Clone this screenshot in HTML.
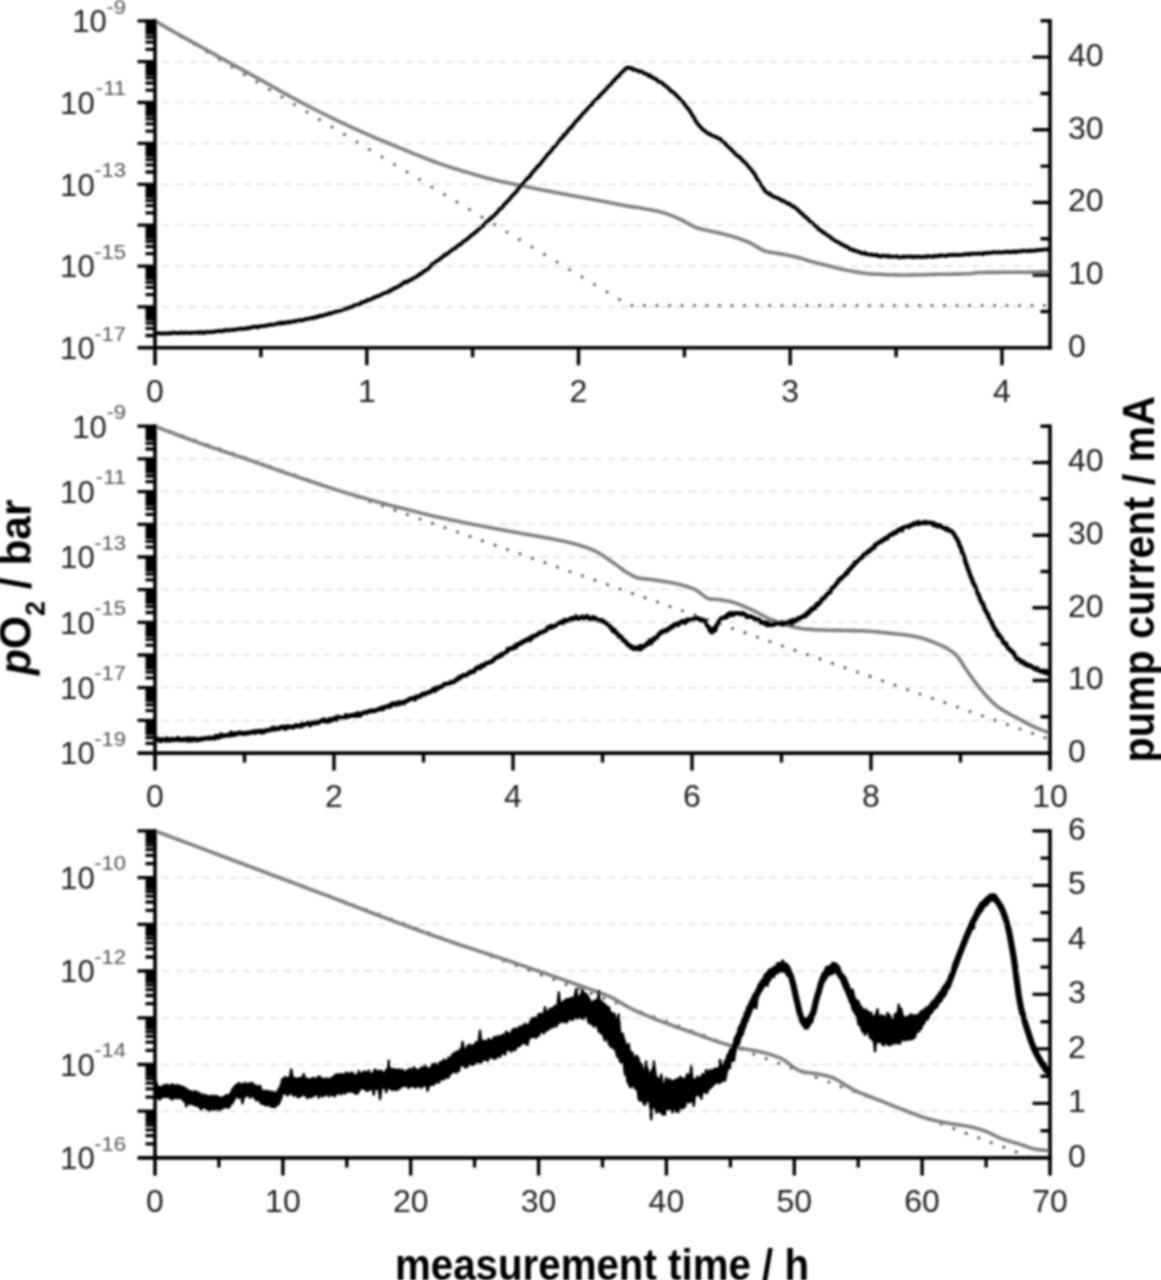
<!DOCTYPE html>
<html lang="en"><head><meta charset="utf-8"><title>pO2 and pump current vs measurement time</title>
<style>html,body{margin:0;padding:0;background:#fff}svg{display:block}</style></head>
<body>
<svg width="1161" height="1280" viewBox="0 0 1161 1280">
<defs><filter id="bl" x="-2%" y="-2%" width="104%" height="104%"><feGaussianBlur stdDeviation="0.9"/></filter></defs>
<rect width="1161" height="1280" fill="#fff"/>
<g filter="url(#bl)">
<g stroke="#e0e0e0" stroke-width="1.5" stroke-dasharray="7.5 6" fill="none">
<path d="M162 61.7H1040"/>
<path d="M162 102.5H1040"/>
<path d="M162 143.4H1040"/>
<path d="M162 184.3H1040"/>
<path d="M162 225.2H1040"/>
<path d="M162 266.1H1040"/>
<path d="M162 306.9H1040"/>
<path d="M162 458.9H1040"/>
<path d="M162 491.6H1040"/>
<path d="M162 524.3H1040"/>
<path d="M162 557.0H1040"/>
<path d="M162 589.6H1040"/>
<path d="M162 622.3H1040"/>
<path d="M162 655.0H1040"/>
<path d="M162 687.7H1040"/>
<path d="M162 720.4H1040"/>
<path d="M162 877.6H1040"/>
<path d="M162 924.3H1040"/>
<path d="M162 971.0H1040"/>
<path d="M162 1017.8H1040"/>
<path d="M162 1064.5H1040"/>
<path d="M162 1111.2H1040"/>
</g>
<g fill="#555">
<circle cx="169.5" cy="29.5" r="1.6"/>
<circle cx="182.0" cy="37.0" r="1.6"/>
<circle cx="194.5" cy="44.5" r="1.6"/>
<circle cx="207.0" cy="52.0" r="1.6"/>
<circle cx="219.5" cy="59.5" r="1.6"/>
<circle cx="232.0" cy="67.0" r="1.6"/>
<circle cx="244.5" cy="74.5" r="1.6"/>
<circle cx="257.0" cy="82.0" r="1.6"/>
<circle cx="269.5" cy="89.5" r="1.6"/>
<circle cx="282.0" cy="97.0" r="1.6"/>
<circle cx="294.5" cy="104.5" r="1.6"/>
<circle cx="307.0" cy="112.0" r="1.6"/>
<circle cx="319.5" cy="119.5" r="1.6"/>
<circle cx="332.0" cy="127.0" r="1.6"/>
<circle cx="344.5" cy="134.5" r="1.6"/>
<circle cx="357.0" cy="142.0" r="1.6"/>
<circle cx="369.5" cy="149.5" r="1.6"/>
<circle cx="382.0" cy="157.0" r="1.6"/>
<circle cx="394.5" cy="164.5" r="1.6"/>
<circle cx="407.0" cy="172.0" r="1.6"/>
<circle cx="419.5" cy="179.5" r="1.6"/>
<circle cx="432.0" cy="187.0" r="1.6"/>
<circle cx="444.5" cy="194.5" r="1.6"/>
<circle cx="457.0" cy="202.0" r="1.6"/>
<circle cx="469.5" cy="209.5" r="1.6"/>
<circle cx="482.0" cy="217.0" r="1.6"/>
<circle cx="494.5" cy="224.5" r="1.6"/>
<circle cx="507.0" cy="232.0" r="1.6"/>
<circle cx="519.5" cy="239.5" r="1.6"/>
<circle cx="532.0" cy="247.0" r="1.6"/>
<circle cx="544.5" cy="254.5" r="1.6"/>
<circle cx="557.0" cy="262.0" r="1.6"/>
<circle cx="569.5" cy="269.5" r="1.6"/>
<circle cx="582.0" cy="277.0" r="1.6"/>
<circle cx="594.5" cy="284.5" r="1.6"/>
<circle cx="607.0" cy="292.0" r="1.6"/>
<circle cx="619.5" cy="299.5" r="1.6"/>
<circle cx="632.0" cy="305.5" r="1.6"/>
<circle cx="644.5" cy="305.5" r="1.6"/>
<circle cx="657.0" cy="305.5" r="1.6"/>
<circle cx="669.5" cy="305.5" r="1.6"/>
<circle cx="682.0" cy="305.5" r="1.6"/>
<circle cx="694.5" cy="305.5" r="1.6"/>
<circle cx="707.0" cy="305.5" r="1.6"/>
<circle cx="719.5" cy="305.5" r="1.6"/>
<circle cx="732.0" cy="305.5" r="1.6"/>
<circle cx="744.5" cy="305.5" r="1.6"/>
<circle cx="757.0" cy="305.5" r="1.6"/>
<circle cx="769.5" cy="305.5" r="1.6"/>
<circle cx="782.0" cy="305.5" r="1.6"/>
<circle cx="794.5" cy="305.5" r="1.6"/>
<circle cx="807.0" cy="305.5" r="1.6"/>
<circle cx="819.5" cy="305.5" r="1.6"/>
<circle cx="832.0" cy="305.5" r="1.6"/>
<circle cx="844.5" cy="305.5" r="1.6"/>
<circle cx="857.0" cy="305.5" r="1.6"/>
<circle cx="869.5" cy="305.5" r="1.6"/>
<circle cx="882.0" cy="305.5" r="1.6"/>
<circle cx="894.5" cy="305.5" r="1.6"/>
<circle cx="907.0" cy="305.5" r="1.6"/>
<circle cx="919.5" cy="305.5" r="1.6"/>
<circle cx="932.0" cy="305.5" r="1.6"/>
<circle cx="944.5" cy="305.5" r="1.6"/>
<circle cx="957.0" cy="305.5" r="1.6"/>
<circle cx="969.5" cy="305.5" r="1.6"/>
<circle cx="982.0" cy="305.5" r="1.6"/>
<circle cx="994.5" cy="305.5" r="1.6"/>
<circle cx="1007.0" cy="305.5" r="1.6"/>
<circle cx="1019.5" cy="305.5" r="1.6"/>
<circle cx="1032.0" cy="305.5" r="1.6"/>
<circle cx="1044.5" cy="305.5" r="1.6"/>
<circle cx="170.0" cy="431.4" r="1.6"/>
<circle cx="182.5" cy="435.8" r="1.6"/>
<circle cx="195.0" cy="440.2" r="1.6"/>
<circle cx="207.5" cy="444.6" r="1.6"/>
<circle cx="220.0" cy="448.9" r="1.6"/>
<circle cx="232.5" cy="453.3" r="1.6"/>
<circle cx="245.0" cy="457.7" r="1.6"/>
<circle cx="257.5" cy="462.1" r="1.6"/>
<circle cx="270.0" cy="466.4" r="1.6"/>
<circle cx="282.5" cy="470.8" r="1.6"/>
<circle cx="295.0" cy="475.2" r="1.6"/>
<circle cx="307.5" cy="479.6" r="1.6"/>
<circle cx="320.0" cy="483.9" r="1.6"/>
<circle cx="332.5" cy="488.3" r="1.6"/>
<circle cx="345.0" cy="492.7" r="1.6"/>
<circle cx="357.5" cy="497.1" r="1.6"/>
<circle cx="370.0" cy="501.4" r="1.6"/>
<circle cx="382.5" cy="505.8" r="1.6"/>
<circle cx="395.0" cy="510.2" r="1.6"/>
<circle cx="407.5" cy="514.6" r="1.6"/>
<circle cx="420.0" cy="519.0" r="1.6"/>
<circle cx="432.5" cy="523.3" r="1.6"/>
<circle cx="445.0" cy="527.7" r="1.6"/>
<circle cx="457.5" cy="532.1" r="1.6"/>
<circle cx="470.0" cy="536.5" r="1.6"/>
<circle cx="482.5" cy="540.8" r="1.6"/>
<circle cx="495.0" cy="545.2" r="1.6"/>
<circle cx="507.5" cy="549.6" r="1.6"/>
<circle cx="520.0" cy="553.9" r="1.6"/>
<circle cx="532.5" cy="558.3" r="1.6"/>
<circle cx="545.0" cy="562.7" r="1.6"/>
<circle cx="557.5" cy="567.1" r="1.6"/>
<circle cx="570.0" cy="571.5" r="1.6"/>
<circle cx="582.5" cy="575.8" r="1.6"/>
<circle cx="595.0" cy="580.2" r="1.6"/>
<circle cx="607.5" cy="584.6" r="1.6"/>
<circle cx="620.0" cy="589.0" r="1.6"/>
<circle cx="632.5" cy="593.3" r="1.6"/>
<circle cx="645.0" cy="597.7" r="1.6"/>
<circle cx="657.5" cy="602.1" r="1.6"/>
<circle cx="670.0" cy="606.5" r="1.6"/>
<circle cx="682.5" cy="610.8" r="1.6"/>
<circle cx="695.0" cy="615.2" r="1.6"/>
<circle cx="707.5" cy="619.6" r="1.6"/>
<circle cx="720.0" cy="624.0" r="1.6"/>
<circle cx="732.5" cy="628.3" r="1.6"/>
<circle cx="745.0" cy="632.7" r="1.6"/>
<circle cx="757.5" cy="637.1" r="1.6"/>
<circle cx="770.0" cy="641.5" r="1.6"/>
<circle cx="782.5" cy="645.8" r="1.6"/>
<circle cx="795.0" cy="650.2" r="1.6"/>
<circle cx="807.5" cy="654.6" r="1.6"/>
<circle cx="820.0" cy="658.9" r="1.6"/>
<circle cx="832.5" cy="663.3" r="1.6"/>
<circle cx="845.0" cy="667.7" r="1.6"/>
<circle cx="857.5" cy="672.1" r="1.6"/>
<circle cx="870.0" cy="676.4" r="1.6"/>
<circle cx="882.5" cy="680.8" r="1.6"/>
<circle cx="895.0" cy="685.2" r="1.6"/>
<circle cx="907.5" cy="689.6" r="1.6"/>
<circle cx="920.0" cy="694.0" r="1.6"/>
<circle cx="932.5" cy="698.3" r="1.6"/>
<circle cx="945.0" cy="702.7" r="1.6"/>
<circle cx="957.5" cy="707.1" r="1.6"/>
<circle cx="970.0" cy="711.5" r="1.6"/>
<circle cx="982.5" cy="715.8" r="1.6"/>
<circle cx="995.0" cy="720.2" r="1.6"/>
<circle cx="1007.5" cy="724.6" r="1.6"/>
<circle cx="1020.0" cy="729.0" r="1.6"/>
<circle cx="1032.5" cy="733.3" r="1.6"/>
<circle cx="1045.0" cy="737.7" r="1.6"/>
<circle cx="166.2" cy="835.1" r="1.6"/>
<circle cx="178.8" cy="839.8" r="1.6"/>
<circle cx="191.2" cy="844.4" r="1.6"/>
<circle cx="203.8" cy="849.1" r="1.6"/>
<circle cx="216.2" cy="853.7" r="1.6"/>
<circle cx="228.8" cy="858.4" r="1.6"/>
<circle cx="241.2" cy="863.0" r="1.6"/>
<circle cx="253.8" cy="867.7" r="1.6"/>
<circle cx="266.2" cy="872.4" r="1.6"/>
<circle cx="278.8" cy="877.0" r="1.6"/>
<circle cx="291.2" cy="881.7" r="1.6"/>
<circle cx="303.8" cy="886.3" r="1.6"/>
<circle cx="316.2" cy="891.0" r="1.6"/>
<circle cx="328.8" cy="895.7" r="1.6"/>
<circle cx="341.2" cy="900.3" r="1.6"/>
<circle cx="353.8" cy="905.0" r="1.6"/>
<circle cx="366.2" cy="909.6" r="1.6"/>
<circle cx="378.8" cy="914.3" r="1.6"/>
<circle cx="391.2" cy="919.0" r="1.6"/>
<circle cx="403.8" cy="923.6" r="1.6"/>
<circle cx="416.2" cy="928.3" r="1.6"/>
<circle cx="428.8" cy="932.9" r="1.6"/>
<circle cx="441.2" cy="937.6" r="1.6"/>
<circle cx="453.8" cy="942.2" r="1.6"/>
<circle cx="466.2" cy="946.9" r="1.6"/>
<circle cx="478.8" cy="951.6" r="1.6"/>
<circle cx="491.2" cy="956.2" r="1.6"/>
<circle cx="503.8" cy="960.9" r="1.6"/>
<circle cx="516.2" cy="965.5" r="1.6"/>
<circle cx="528.8" cy="970.2" r="1.6"/>
<circle cx="541.2" cy="974.9" r="1.6"/>
<circle cx="553.8" cy="979.5" r="1.6"/>
<circle cx="566.2" cy="984.2" r="1.6"/>
<circle cx="578.8" cy="988.8" r="1.6"/>
<circle cx="591.2" cy="993.5" r="1.6"/>
<circle cx="603.8" cy="998.1" r="1.6"/>
<circle cx="616.2" cy="1002.8" r="1.6"/>
<circle cx="628.8" cy="1007.5" r="1.6"/>
<circle cx="641.2" cy="1012.1" r="1.6"/>
<circle cx="653.8" cy="1016.8" r="1.6"/>
<circle cx="666.2" cy="1021.4" r="1.6"/>
<circle cx="678.8" cy="1026.1" r="1.6"/>
<circle cx="691.2" cy="1030.8" r="1.6"/>
<circle cx="703.8" cy="1035.4" r="1.6"/>
<circle cx="716.2" cy="1040.1" r="1.6"/>
<circle cx="728.8" cy="1044.7" r="1.6"/>
<circle cx="741.2" cy="1049.4" r="1.6"/>
<circle cx="753.8" cy="1054.1" r="1.6"/>
<circle cx="766.2" cy="1058.7" r="1.6"/>
<circle cx="778.8" cy="1063.4" r="1.6"/>
<circle cx="791.2" cy="1068.0" r="1.6"/>
<circle cx="803.8" cy="1072.7" r="1.6"/>
<circle cx="816.2" cy="1077.3" r="1.6"/>
<circle cx="828.8" cy="1082.0" r="1.6"/>
<circle cx="841.2" cy="1086.7" r="1.6"/>
<circle cx="853.8" cy="1091.3" r="1.6"/>
<circle cx="866.2" cy="1096.0" r="1.6"/>
<circle cx="878.8" cy="1100.6" r="1.6"/>
<circle cx="891.2" cy="1105.3" r="1.6"/>
<circle cx="903.8" cy="1110.0" r="1.6"/>
<circle cx="916.2" cy="1114.6" r="1.6"/>
<circle cx="928.8" cy="1119.3" r="1.6"/>
<circle cx="941.2" cy="1123.9" r="1.6"/>
<circle cx="953.8" cy="1128.6" r="1.6"/>
<circle cx="966.2" cy="1133.3" r="1.6"/>
<circle cx="978.8" cy="1137.9" r="1.6"/>
<circle cx="991.2" cy="1142.6" r="1.6"/>
<circle cx="1003.8" cy="1147.2" r="1.6"/>
<circle cx="1016.2" cy="1151.9" r="1.6"/>
<circle cx="1028.8" cy="1156.5" r="1.6"/>
</g>
<g stroke="#808080" stroke-width="3.6" fill="none" stroke-linejoin="round" stroke-linecap="butt">
<path d="M155.0 20.8L157.0 22.0L159.0 23.2L161.0 24.4L163.0 25.6L165.0 26.8L167.0 27.9L169.0 29.1L171.0 30.2L173.0 31.3L175.0 32.5L177.0 33.6L179.0 34.7L181.0 35.8L183.0 36.9L185.0 38.1L187.0 39.2L189.0 40.3L191.0 41.4L193.0 42.5L195.0 43.6L197.0 44.7L199.0 45.8L201.0 46.9L203.0 48.0L205.0 49.1L207.0 50.2L209.0 51.3L211.0 52.4L213.0 53.6L215.0 54.7L217.0 55.8L219.0 56.9L221.0 58.0L223.0 59.1L225.0 60.2L227.0 61.3L229.0 62.4L231.0 63.5L233.0 64.6L235.0 65.7L237.0 66.8L239.0 67.9L241.0 69.0L243.0 70.1L245.0 71.2L247.0 72.3L249.0 73.4L251.0 74.5L253.0 75.6L255.0 76.8L257.0 77.9L259.0 79.0L261.0 80.1L263.0 81.2L265.0 82.3L267.0 83.5L269.0 84.6L271.0 85.7L273.0 86.9L275.0 88.0L277.0 89.1L279.0 90.3L281.0 91.4L283.0 92.5L285.0 93.6L287.0 94.7L289.0 95.8L291.0 96.9L293.0 98.0L295.0 99.1L297.0 100.2L299.0 101.2L301.0 102.3L303.0 103.3L305.0 104.4L307.0 105.4L309.0 106.4L311.0 107.5L313.0 108.5L315.0 109.5L317.0 110.5L319.0 111.5L321.0 112.5L323.0 113.5L325.0 114.5L327.0 115.5L329.0 116.5L331.0 117.5L333.0 118.4L335.0 119.4L337.0 120.4L339.0 121.3L341.0 122.3L343.0 123.2L345.0 124.2L347.0 125.1L349.0 126.1L351.0 127.0L353.0 127.9L355.0 128.8L357.0 129.7L359.0 130.6L361.0 131.5L363.0 132.4L365.0 133.3L367.0 134.2L369.0 135.1L371.0 135.9L373.0 136.8L375.0 137.7L377.0 138.5L379.0 139.4L381.0 140.2L383.0 141.0L385.0 141.9L387.0 142.7L389.0 143.5L391.0 144.3L393.0 145.2L395.0 146.0L397.0 146.8L399.0 147.6L401.0 148.4L403.0 149.2L405.0 150.0L407.0 150.9L409.0 151.7L411.0 152.5L413.0 153.3L415.0 154.1L417.0 154.9L419.0 155.7L421.0 156.6L423.0 157.3L425.0 158.1L427.0 158.9L429.0 159.7L431.0 160.5L433.0 161.2L435.0 162.0L437.0 162.7L439.0 163.4L441.0 164.1L443.0 164.8L445.0 165.5L447.0 166.1L449.0 166.8L451.0 167.4L453.0 168.1L455.0 168.7L457.0 169.3L459.0 169.9L461.0 170.5L463.0 171.2L465.0 171.8L467.0 172.3L469.0 172.9L471.0 173.5L473.0 174.1L475.0 174.7L477.0 175.3L479.0 175.8L481.0 176.4L483.0 176.9L485.0 177.5L487.0 178.0L489.0 178.5L491.0 179.0L493.0 179.5L495.0 180.0L497.0 180.4L499.0 180.9L501.0 181.4L503.0 181.8L505.0 182.3L507.0 182.7L509.0 183.1L511.0 183.6L513.0 184.0L515.0 184.4L517.0 184.8L519.0 185.3L521.0 185.7L523.0 186.1L525.0 186.5L527.0 186.9L529.0 187.3L531.0 187.7L533.0 188.1L535.0 188.5L537.0 188.9L539.0 189.3L541.0 189.7L543.0 190.1L545.0 190.5L547.0 190.8L549.0 191.2L551.0 191.6L553.0 192.0L555.0 192.4L557.0 192.7L559.0 193.1L561.0 193.5L563.0 193.9L565.0 194.2L567.0 194.6L569.0 195.0L571.0 195.4L573.0 195.8L575.0 196.1L577.0 196.5L579.0 196.9L581.0 197.2L583.0 197.6L585.0 198.0L587.0 198.4L589.0 198.7L591.0 199.1L593.0 199.5L595.0 199.8L597.0 200.2L599.0 200.6L601.0 201.0L603.0 201.3L605.0 201.7L607.0 202.1L609.0 202.5L611.0 202.9L613.0 203.3L615.0 203.7L617.0 204.1L619.0 204.4L621.0 204.8L623.0 205.2L625.0 205.6L627.0 205.9L629.0 206.3L631.0 206.6L633.0 206.9L635.0 207.2L637.0 207.5L639.0 207.8L641.0 208.1L643.0 208.5L645.0 208.8L647.0 209.2L649.0 209.5L651.0 209.9L653.0 210.3L655.0 210.7L657.0 211.1L659.0 211.6L661.0 212.1L663.0 212.6L665.0 213.2L667.0 213.9L669.0 214.6L671.0 215.4L673.0 216.2L675.0 217.1L677.0 217.9L679.0 218.8L681.0 219.7L683.0 220.7L685.0 221.8L687.0 222.9L689.0 224.0L691.0 225.1L693.0 226.1L695.0 227.1L697.0 227.8L699.0 228.5L701.0 229.0L703.0 229.5L705.0 229.9L707.0 230.3L709.0 230.8L711.0 231.2L713.0 231.7L715.0 232.1L717.0 232.6L719.0 233.0L721.0 233.5L723.0 234.0L725.0 234.4L727.0 234.9L729.0 235.5L731.0 236.0L733.0 236.6L735.0 237.2L737.0 237.9L739.0 238.6L741.0 239.3L743.0 240.0L745.0 240.8L747.0 241.5L749.0 242.4L751.0 243.4L753.0 244.5L755.0 245.7L757.0 246.9L759.0 248.1L761.0 249.2L763.0 250.1L765.0 251.0L767.0 251.6L769.0 252.1L771.0 252.4L773.0 252.7L775.0 253.0L777.0 253.3L779.0 253.6L781.0 253.9L783.0 254.3L785.0 254.7L787.0 255.0L789.0 255.4L791.0 255.9L793.0 256.3L795.0 256.8L797.0 257.2L799.0 257.8L801.0 258.3L803.0 258.9L805.0 259.5L807.0 260.2L809.0 260.8L811.0 261.4L813.0 261.9L815.0 262.5L817.0 263.0L819.0 263.6L821.0 264.1L823.0 264.6L825.0 265.1L827.0 265.6L829.0 266.1L831.0 266.6L833.0 267.0L835.0 267.5L837.0 268.0L839.0 268.4L841.0 268.9L843.0 269.4L845.0 269.8L847.0 270.2L849.0 270.7L851.0 271.0L853.0 271.4L855.0 271.8L857.0 272.1L859.0 272.4L861.0 272.7L863.0 273.0L865.0 273.3L867.0 273.5L869.0 273.7L871.0 273.9L873.0 274.0L875.0 274.1L877.0 274.2L879.0 274.3L881.0 274.4L883.0 274.5L885.0 274.6L887.0 274.7L889.0 274.7L891.0 274.8L893.0 274.8L895.0 274.9L897.0 274.9L899.0 275.0L901.0 275.0L903.0 275.0L905.0 275.0L907.0 275.0L909.0 275.0L911.0 274.9L913.0 274.9L915.0 274.9L917.0 274.8L919.0 274.8L921.0 274.7L923.0 274.7L925.0 274.6L927.0 274.6L929.0 274.5L931.0 274.5L933.0 274.4L935.0 274.4L937.0 274.4L939.0 274.3L941.0 274.3L943.0 274.3L945.0 274.3L947.0 274.2L949.0 274.2L951.0 274.2L953.0 274.1L955.0 274.1L957.0 274.1L959.0 274.0L961.0 274.0L963.0 273.9L965.0 273.8L967.0 273.8L969.0 273.7L971.0 273.5L973.0 273.2L975.0 272.9L977.0 272.7L979.0 272.5L981.0 272.5L983.0 272.5L985.0 272.4L987.0 272.4L989.0 272.4L991.0 272.4L993.0 272.4L995.0 272.4L997.0 272.4L999.0 272.4L1001.0 272.3L1003.0 272.3L1005.0 272.3L1007.0 272.3L1009.0 272.3L1011.0 272.3L1013.0 272.3L1015.0 272.3L1017.0 272.3L1019.0 272.3L1021.0 272.2L1023.0 272.2L1025.0 272.2L1027.0 272.2L1029.0 272.1L1031.0 272.1L1033.0 272.1L1035.0 272.0L1037.0 272.0L1039.0 272.0L1041.0 271.9L1043.0 271.9L1045.0 271.9L1047.0 271.8L1049.0 271.8L1050.0 271.8"/>
<path d="M155.0 426.2L157.0 427.0L159.0 427.8L161.0 428.6L163.0 429.3L165.0 430.1L167.0 430.9L169.0 431.7L171.0 432.4L173.0 433.2L175.0 434.0L177.0 434.7L179.0 435.5L181.0 436.2L183.0 437.0L185.0 437.7L187.0 438.5L189.0 439.2L191.0 439.9L193.0 440.7L195.0 441.4L197.0 442.1L199.0 442.8L201.0 443.6L203.0 444.3L205.0 445.0L207.0 445.7L209.0 446.4L211.0 447.1L213.0 447.8L215.0 448.4L217.0 449.1L219.0 449.8L221.0 450.5L223.0 451.2L225.0 451.8L227.0 452.5L229.0 453.2L231.0 453.9L233.0 454.5L235.0 455.2L237.0 455.9L239.0 456.5L241.0 457.2L243.0 457.9L245.0 458.6L247.0 459.3L249.0 460.0L251.0 460.6L253.0 461.3L255.0 462.0L257.0 462.7L259.0 463.4L261.0 464.1L263.0 464.8L265.0 465.5L267.0 466.3L269.0 467.0L271.0 467.7L273.0 468.4L275.0 469.1L277.0 469.8L279.0 470.5L281.0 471.2L283.0 471.9L285.0 472.6L287.0 473.3L289.0 474.0L291.0 474.7L293.0 475.4L295.0 476.1L297.0 476.7L299.0 477.4L301.0 478.1L303.0 478.8L305.0 479.4L307.0 480.1L309.0 480.8L311.0 481.5L313.0 482.1L315.0 482.8L317.0 483.5L319.0 484.1L321.0 484.8L323.0 485.5L325.0 486.1L327.0 486.8L329.0 487.4L331.0 488.1L333.0 488.7L335.0 489.4L337.0 490.0L339.0 490.6L341.0 491.3L343.0 491.9L345.0 492.5L347.0 493.1L349.0 493.7L351.0 494.3L353.0 494.9L355.0 495.5L357.0 496.1L359.0 496.6L361.0 497.2L363.0 497.8L365.0 498.3L367.0 498.9L369.0 499.5L371.0 500.0L373.0 500.6L375.0 501.1L377.0 501.7L379.0 502.2L381.0 502.8L383.0 503.3L385.0 503.8L387.0 504.4L389.0 504.9L391.0 505.4L393.0 505.9L395.0 506.5L397.0 507.0L399.0 507.5L401.0 508.0L403.0 508.5L405.0 509.0L407.0 509.5L409.0 510.1L411.0 510.6L413.0 511.1L415.0 511.6L417.0 512.1L419.0 512.6L421.0 513.0L423.0 513.5L425.0 514.0L427.0 514.5L429.0 515.0L431.0 515.4L433.0 515.9L435.0 516.4L437.0 516.8L439.0 517.3L441.0 517.7L443.0 518.2L445.0 518.6L447.0 519.0L449.0 519.5L451.0 519.9L453.0 520.3L455.0 520.7L457.0 521.1L459.0 521.6L461.0 522.0L463.0 522.4L465.0 522.8L467.0 523.2L469.0 523.6L471.0 524.0L473.0 524.4L475.0 524.8L477.0 525.2L479.0 525.5L481.0 525.9L483.0 526.3L485.0 526.7L487.0 527.1L489.0 527.5L491.0 527.8L493.0 528.2L495.0 528.6L497.0 528.9L499.0 529.3L501.0 529.7L503.0 530.1L505.0 530.4L507.0 530.8L509.0 531.2L511.0 531.5L513.0 531.9L515.0 532.2L517.0 532.6L519.0 533.0L521.0 533.3L523.0 533.7L525.0 534.0L527.0 534.4L529.0 534.7L531.0 535.1L533.0 535.4L535.0 535.8L537.0 536.1L539.0 536.5L541.0 536.8L543.0 537.2L545.0 537.6L547.0 537.9L549.0 538.3L551.0 538.7L553.0 539.1L555.0 539.5L557.0 539.9L559.0 540.3L561.0 540.7L563.0 541.1L565.0 541.6L567.0 542.0L569.0 542.5L571.0 543.0L573.0 543.5L575.0 544.0L577.0 544.6L579.0 545.1L581.0 545.7L583.0 546.4L585.0 547.0L587.0 547.7L589.0 548.5L591.0 549.3L593.0 550.1L595.0 551.0L597.0 552.0L599.0 553.1L601.0 554.3L603.0 555.6L605.0 556.9L607.0 558.4L609.0 559.8L611.0 561.2L613.0 562.6L615.0 564.0L617.0 565.4L619.0 566.9L621.0 568.3L623.0 569.8L625.0 571.2L627.0 572.5L629.0 573.6L631.0 574.8L633.0 576.0L635.0 576.9L637.0 577.6L639.0 578.1L641.0 578.4L643.0 578.7L645.0 578.9L647.0 579.1L649.0 579.3L651.0 579.5L653.0 579.8L655.0 580.1L657.0 580.4L659.0 580.7L661.0 581.0L663.0 581.3L665.0 581.6L667.0 582.0L669.0 582.3L671.0 582.7L673.0 583.1L675.0 583.5L677.0 583.9L679.0 584.3L681.0 584.8L683.0 585.4L685.0 585.9L687.0 586.5L689.0 587.2L691.0 587.9L693.0 588.7L695.0 589.5L697.0 590.6L699.0 592.0L701.0 593.6L703.0 595.2L705.0 596.8L707.0 598.0L709.0 598.8L711.0 599.1L713.0 599.2L715.0 599.3L717.0 599.5L719.0 599.7L721.0 599.9L723.0 600.2L725.0 600.5L727.0 600.9L729.0 601.3L731.0 601.7L733.0 602.3L735.0 602.9L737.0 603.6L739.0 604.3L741.0 605.1L743.0 606.0L745.0 606.8L747.0 607.7L749.0 608.6L751.0 609.4L753.0 610.4L755.0 611.4L757.0 612.4L759.0 613.5L761.0 614.6L763.0 615.6L765.0 616.7L767.0 617.7L769.0 618.6L771.0 619.4L773.0 620.2L775.0 621.0L777.0 621.8L779.0 622.5L781.0 623.2L783.0 623.9L785.0 624.5L787.0 625.1L789.0 625.7L791.0 626.2L793.0 626.7L795.0 627.2L797.0 627.7L799.0 628.1L801.0 628.5L803.0 628.8L805.0 629.0L807.0 629.2L809.0 629.3L811.0 629.4L813.0 629.6L815.0 629.7L817.0 629.8L819.0 629.9L821.0 630.0L823.0 630.0L825.0 630.1L827.0 630.2L829.0 630.2L831.0 630.3L833.0 630.3L835.0 630.4L837.0 630.4L839.0 630.4L841.0 630.4L843.0 630.5L845.0 630.5L847.0 630.5L849.0 630.5L851.0 630.6L853.0 630.6L855.0 630.6L857.0 630.7L859.0 630.7L861.0 630.8L863.0 630.9L865.0 631.0L867.0 631.1L869.0 631.2L871.0 631.4L873.0 631.5L875.0 631.7L877.0 631.9L879.0 632.1L881.0 632.3L883.0 632.5L885.0 632.7L887.0 632.9L889.0 633.1L891.0 633.4L893.0 633.6L895.0 633.8L897.0 634.0L899.0 634.2L901.0 634.4L903.0 634.7L905.0 634.9L907.0 635.2L909.0 635.5L911.0 635.8L913.0 636.1L915.0 636.5L917.0 636.9L919.0 637.4L921.0 637.9L923.0 638.5L925.0 639.1L927.0 639.8L929.0 640.5L931.0 641.2L933.0 642.0L935.0 642.8L937.0 643.6L939.0 644.4L941.0 645.3L943.0 646.3L945.0 647.3L947.0 648.4L949.0 649.6L951.0 651.0L953.0 652.4L955.0 654.0L957.0 656.0L959.0 658.6L961.0 661.5L963.0 664.7L965.0 667.8L967.0 670.8L969.0 673.6L971.0 676.4L973.0 679.2L975.0 681.9L977.0 684.6L979.0 687.2L981.0 689.7L983.0 692.1L985.0 694.3L987.0 696.6L989.0 698.7L991.0 700.8L993.0 702.7L995.0 704.5L997.0 706.1L999.0 707.6L1001.0 709.0L1003.0 710.2L1005.0 711.4L1007.0 712.6L1009.0 713.7L1011.0 714.8L1013.0 715.8L1015.0 716.9L1017.0 717.9L1019.0 719.0L1021.0 720.0L1023.0 721.1L1025.0 722.2L1027.0 723.3L1029.0 724.3L1031.0 725.3L1033.0 726.3L1035.0 727.2L1037.0 728.0L1039.0 728.8L1041.0 729.6L1043.0 730.4L1045.0 731.1L1047.0 731.8L1049.0 732.4L1050.0 732.8"/>
<path d="M155.0 830.9L157.0 831.7L159.0 832.4L161.0 833.2L163.0 833.9L165.0 834.7L167.0 835.4L169.0 836.2L171.0 836.9L173.0 837.7L175.0 838.4L177.0 839.2L179.0 839.9L181.0 840.7L183.0 841.4L185.0 842.2L187.0 842.9L189.0 843.7L191.0 844.4L193.0 845.2L195.0 845.9L197.0 846.7L199.0 847.4L201.0 848.2L203.0 848.9L205.0 849.7L207.0 850.4L209.0 851.2L211.0 852.0L213.0 852.7L215.0 853.5L217.0 854.2L219.0 855.0L221.0 855.7L223.0 856.5L225.0 857.2L227.0 858.0L229.0 858.7L231.0 859.5L233.0 860.2L235.0 861.0L237.0 861.7L239.0 862.5L241.0 863.2L243.0 864.0L245.0 864.7L247.0 865.5L249.0 866.2L251.0 867.0L253.0 867.7L255.0 868.5L257.0 869.2L259.0 870.0L261.0 870.7L263.0 871.5L265.0 872.2L267.0 873.0L269.0 873.8L271.0 874.5L273.0 875.3L275.0 876.0L277.0 876.8L279.0 877.5L281.0 878.3L283.0 879.0L285.0 879.8L287.0 880.5L289.0 881.3L291.0 882.0L293.0 882.8L295.0 883.5L297.0 884.3L299.0 885.0L301.0 885.8L303.0 886.5L305.0 887.3L307.0 888.0L309.0 888.8L311.0 889.6L313.0 890.3L315.0 891.1L317.0 891.8L319.0 892.6L321.0 893.4L323.0 894.1L325.0 894.9L327.0 895.6L329.0 896.4L331.0 897.2L333.0 897.9L335.0 898.7L337.0 899.5L339.0 900.2L341.0 901.0L343.0 901.8L345.0 902.5L347.0 903.3L349.0 904.1L351.0 904.9L353.0 905.6L355.0 906.4L357.0 907.2L359.0 907.9L361.0 908.7L363.0 909.5L365.0 910.2L367.0 911.0L369.0 911.7L371.0 912.5L373.0 913.3L375.0 914.0L377.0 914.8L379.0 915.6L381.0 916.3L383.0 917.1L385.0 917.8L387.0 918.6L389.0 919.3L391.0 920.1L393.0 920.9L395.0 921.6L397.0 922.4L399.0 923.1L401.0 923.8L403.0 924.6L405.0 925.3L407.0 926.1L409.0 926.8L411.0 927.6L413.0 928.3L415.0 929.0L417.0 929.8L419.0 930.5L421.0 931.2L423.0 931.9L425.0 932.7L427.0 933.4L429.0 934.1L431.0 934.8L433.0 935.5L435.0 936.2L437.0 936.9L439.0 937.6L441.0 938.4L443.0 939.0L445.0 939.7L447.0 940.4L449.0 941.1L451.0 941.8L453.0 942.5L455.0 943.2L457.0 943.8L459.0 944.5L461.0 945.2L463.0 945.8L465.0 946.5L467.0 947.1L469.0 947.8L471.0 948.5L473.0 949.1L475.0 949.8L477.0 950.4L479.0 951.1L481.0 951.7L483.0 952.4L485.0 953.0L487.0 953.7L489.0 954.3L491.0 955.0L493.0 955.7L495.0 956.3L497.0 957.0L499.0 957.6L501.0 958.3L503.0 959.0L505.0 959.6L507.0 960.3L509.0 961.0L511.0 961.6L513.0 962.3L515.0 963.0L517.0 963.7L519.0 964.4L521.0 965.1L523.0 965.7L525.0 966.4L527.0 967.1L529.0 967.8L531.0 968.5L533.0 969.2L535.0 969.9L537.0 970.5L539.0 971.2L541.0 971.9L543.0 972.6L545.0 973.3L547.0 974.0L549.0 974.7L551.0 975.4L553.0 976.1L555.0 976.8L557.0 977.5L559.0 978.2L561.0 978.9L563.0 979.6L565.0 980.3L567.0 981.0L569.0 981.7L571.0 982.4L573.0 983.1L575.0 983.8L577.0 984.6L579.0 985.3L581.0 986.0L583.0 986.7L585.0 987.4L587.0 988.2L589.0 988.9L591.0 989.6L593.0 990.3L595.0 991.0L597.0 991.7L599.0 992.4L601.0 993.1L603.0 993.9L605.0 994.7L607.0 995.5L609.0 996.3L611.0 997.2L613.0 998.2L615.0 999.3L617.0 1000.5L619.0 1001.7L621.0 1002.9L623.0 1004.1L625.0 1005.3L627.0 1006.4L629.0 1007.5L631.0 1008.5L633.0 1009.5L635.0 1010.4L637.0 1011.3L639.0 1012.3L641.0 1013.2L643.0 1014.0L645.0 1014.9L647.0 1015.7L649.0 1016.6L651.0 1017.4L653.0 1018.2L655.0 1019.0L657.0 1019.8L659.0 1020.6L661.0 1021.3L663.0 1022.1L665.0 1022.8L667.0 1023.6L669.0 1024.3L671.0 1025.0L673.0 1025.7L675.0 1026.5L677.0 1027.2L679.0 1027.9L681.0 1028.6L683.0 1029.3L685.0 1030.0L687.0 1030.7L689.0 1031.4L691.0 1032.1L693.0 1032.8L695.0 1033.5L697.0 1034.3L699.0 1035.0L701.0 1035.7L703.0 1036.5L705.0 1037.2L707.0 1037.9L709.0 1038.6L711.0 1039.4L713.0 1040.1L715.0 1040.8L717.0 1041.4L719.0 1042.1L721.0 1042.8L723.0 1043.4L725.0 1044.0L727.0 1044.6L729.0 1045.2L731.0 1045.8L733.0 1046.3L735.0 1046.8L737.0 1047.3L739.0 1047.8L741.0 1048.2L743.0 1048.6L745.0 1049.0L747.0 1049.3L749.0 1049.7L751.0 1050.0L753.0 1050.3L755.0 1050.7L757.0 1051.1L759.0 1051.5L761.0 1052.0L763.0 1052.5L765.0 1053.0L767.0 1053.5L769.0 1054.1L771.0 1054.7L773.0 1055.4L775.0 1056.1L777.0 1056.8L779.0 1057.6L781.0 1058.4L783.0 1059.5L785.0 1060.8L787.0 1062.2L789.0 1063.7L791.0 1065.2L793.0 1066.7L795.0 1068.2L797.0 1069.4L799.0 1070.5L801.0 1071.3L803.0 1071.9L805.0 1072.2L807.0 1072.5L809.0 1072.7L811.0 1073.0L813.0 1073.2L815.0 1073.5L817.0 1073.8L819.0 1074.2L821.0 1074.6L823.0 1075.0L825.0 1075.4L827.0 1075.9L829.0 1076.5L831.0 1077.1L833.0 1077.8L835.0 1078.8L837.0 1079.8L839.0 1081.0L841.0 1082.2L843.0 1083.4L845.0 1084.7L847.0 1086.0L849.0 1087.2L851.0 1088.4L853.0 1089.5L855.0 1090.5L857.0 1091.4L859.0 1092.3L861.0 1093.1L863.0 1093.9L865.0 1094.7L867.0 1095.5L869.0 1096.3L871.0 1097.0L873.0 1097.8L875.0 1098.6L877.0 1099.3L879.0 1100.1L881.0 1100.9L883.0 1101.7L885.0 1102.5L887.0 1103.3L889.0 1104.2L891.0 1105.0L893.0 1105.8L895.0 1106.6L897.0 1107.4L899.0 1108.2L901.0 1109.0L903.0 1109.7L905.0 1110.5L907.0 1111.3L909.0 1112.0L911.0 1112.8L913.0 1113.5L915.0 1114.3L917.0 1115.0L919.0 1115.8L921.0 1116.5L923.0 1117.2L925.0 1117.8L927.0 1118.4L929.0 1119.0L931.0 1119.5L933.0 1120.0L935.0 1120.5L937.0 1120.9L939.0 1121.4L941.0 1121.8L943.0 1122.2L945.0 1122.6L947.0 1122.9L949.0 1123.3L951.0 1123.7L953.0 1124.0L955.0 1124.3L957.0 1124.6L959.0 1124.9L961.0 1125.2L963.0 1125.5L965.0 1125.8L967.0 1126.2L969.0 1126.5L971.0 1127.0L973.0 1127.4L975.0 1127.9L977.0 1128.5L979.0 1129.0L981.0 1129.7L983.0 1130.3L985.0 1131.0L987.0 1131.8L989.0 1132.7L991.0 1133.7L993.0 1134.7L995.0 1135.7L997.0 1136.7L999.0 1137.6L1001.0 1138.4L1003.0 1139.1L1005.0 1139.7L1007.0 1140.4L1009.0 1141.0L1011.0 1141.6L1013.0 1142.2L1015.0 1142.7L1017.0 1143.3L1019.0 1143.9L1021.0 1144.6L1023.0 1145.3L1025.0 1146.0L1027.0 1146.7L1029.0 1147.5L1031.0 1148.1L1033.0 1148.7L1035.0 1149.1L1037.0 1149.4L1039.0 1149.7L1041.0 1149.9L1043.0 1150.1L1045.0 1150.3L1047.0 1150.4L1049.0 1150.5L1050.0 1150.5"/>
</g>
<g stroke="#000" fill="none" stroke-linejoin="round">
<path stroke-width="3.8" d="M155.0 333.5L156.0 333.6L157.0 333.4L158.0 333.2L159.0 333.3L160.0 333.1L161.0 333.5L162.0 333.9L163.0 333.3L164.0 333.2L165.0 333.6L166.0 333.5L167.0 333.4L168.0 333.1L169.0 333.4L170.0 333.6L171.0 332.9L172.0 333.2L173.0 332.6L174.0 332.8L175.0 332.6L176.0 333.2L177.0 332.8L178.0 333.3L179.0 333.2L180.0 333.1L181.0 332.2L182.0 332.9L183.0 333.0L184.0 333.1L185.0 332.5L186.0 332.8L187.0 332.6L188.0 332.6L189.0 333.2L190.0 332.6L191.0 332.8L192.0 333.1L193.0 332.5L194.0 332.7L195.0 332.7L196.0 332.7L197.0 332.2L198.0 332.6L199.0 333.0L200.0 332.0L201.0 332.8L202.0 332.5L203.0 332.1L204.0 333.0L205.0 332.5L206.0 331.8L207.0 332.2L208.0 332.3L209.0 331.9L210.0 332.2L211.0 331.8L212.0 332.0L213.0 332.2L214.0 331.4L215.0 331.6L216.0 331.3L217.0 331.4L218.0 330.9L219.0 331.0L220.0 331.0L221.0 331.3L222.0 331.3L223.0 330.3L224.0 330.4L225.0 330.8L226.0 329.8L227.0 330.2L228.0 330.2L229.0 330.6L230.0 330.3L231.0 329.8L232.0 329.7L233.0 329.6L234.0 330.2L235.0 329.4L236.0 329.3L237.0 329.4L238.0 329.2L239.0 329.0L240.0 328.6L241.0 328.9L242.0 328.6L243.0 329.0L244.0 328.8L245.0 328.4L246.0 328.5L247.0 328.0L248.0 328.4L249.0 327.9L250.0 328.0L251.0 327.2L252.0 327.6L253.0 326.8L254.0 326.5L255.0 327.0L256.0 326.7L257.0 326.9L258.0 327.5L259.0 326.3L260.0 326.2L261.0 326.4L262.0 326.3L263.0 325.9L264.0 325.8L265.0 326.0L266.0 325.8L267.0 325.1L268.0 325.3L269.0 325.1L270.0 324.6L271.0 324.9L272.0 324.4L273.0 324.9L274.0 324.5L275.0 324.3L276.0 323.9L277.0 323.9L278.0 323.1L279.0 323.3L280.0 323.6L281.0 322.6L282.0 323.5L283.0 322.5L284.0 323.2L285.0 322.5L286.0 322.9L287.0 322.5L288.0 321.8L289.0 322.6L290.0 322.5L291.0 321.8L292.0 321.6L293.0 321.5L294.0 321.0L295.0 321.6L296.0 320.9L297.0 320.9L298.0 320.4L299.0 320.3L300.0 319.9L301.0 320.6L302.0 320.0L303.0 320.2L304.0 319.7L305.0 319.2L306.0 319.2L307.0 318.9L308.0 318.9L309.0 318.6L310.0 318.4L311.0 317.8L312.0 317.8L313.0 318.5L314.0 317.4L315.0 317.1L316.0 317.3L317.0 317.5L318.0 316.2L319.0 316.4L320.0 316.0L321.0 315.4L322.0 316.0L323.0 315.5L324.0 315.2L325.0 314.7L326.0 314.8L327.0 314.2L328.0 314.1L329.0 313.4L330.0 313.1L331.0 313.7L332.0 312.8L333.0 312.7L334.0 312.3L335.0 311.9L336.0 311.6L337.0 311.6L338.0 311.0L339.0 310.8L340.0 310.5L341.0 310.6L342.0 310.1L343.0 309.7L344.0 309.0L345.0 308.4L346.0 308.9L347.0 308.5L348.0 307.8L349.0 307.7L350.0 307.4L351.0 307.1L352.0 306.8L353.0 305.9L354.0 306.2L355.0 304.9L356.0 305.3L357.0 304.8L358.0 304.5L359.0 304.5L360.0 304.0L361.0 302.7L362.0 302.1L363.0 302.6L364.0 301.6L365.0 301.5L366.0 301.4L367.0 300.2L368.0 299.6L369.0 300.1L370.0 299.6L371.0 299.1L372.0 298.8L373.0 298.0L374.0 297.4L375.0 297.5L376.0 296.8L377.0 296.1L378.0 296.4L379.0 295.8L380.0 295.5L381.0 294.6L382.0 294.2L383.0 293.7L384.0 293.3L385.0 293.2L386.0 292.3L387.0 292.3L388.0 291.8L389.0 291.9L390.0 290.2L391.0 290.5L392.0 289.6L393.0 289.1L394.0 288.1L395.0 288.0L396.0 287.9L397.0 287.1L398.0 286.6L399.0 285.9L400.0 285.9L401.0 285.0L402.0 283.7L403.0 283.7L404.0 282.7L405.0 281.7L406.0 282.2L407.0 282.3L408.0 281.3L409.0 280.3L410.0 279.9L411.0 280.0L412.0 279.1L413.0 278.5L414.0 277.9L415.0 277.4L416.0 277.0L417.0 276.3L418.0 275.6L419.0 274.5L420.0 274.4L421.0 273.3L422.0 273.3L423.0 271.7L424.0 271.4L425.0 270.7L426.0 269.5L427.0 269.7L428.0 268.9L429.0 267.4L430.0 267.0L431.0 266.0L432.0 264.2L433.0 264.4L434.0 263.4L435.0 262.7L436.0 261.5L437.0 260.9L438.0 260.2L439.0 259.9L440.0 258.8L441.0 257.9L442.0 257.7L443.0 256.3L444.0 255.6L445.0 254.4L446.0 254.8L447.0 253.9L448.0 253.2L449.0 252.4L450.0 251.5L451.0 250.8L452.0 250.0L453.0 249.3L454.0 248.7L455.0 248.5L456.0 247.4L457.0 246.5L458.0 245.6L459.0 244.9L460.0 244.9L461.0 243.8L462.0 242.9L463.0 242.1L464.0 241.0L465.0 240.6L466.0 240.2L467.0 239.0L468.0 238.3L469.0 237.5L470.0 236.8L471.0 235.4L472.0 235.0L473.0 234.0L474.0 233.8L475.0 232.3L476.0 231.9L477.0 231.4L478.0 229.9L479.0 228.9L480.0 228.3L481.0 227.4L482.0 226.1L483.0 225.7L484.0 225.4L485.0 223.7L486.0 222.7L487.0 221.5L488.0 221.1L489.0 219.6L490.0 218.7L491.0 218.6L492.0 216.8L493.0 216.6L494.0 215.7L495.0 214.3L496.0 213.4L497.0 212.9L498.0 211.2L499.0 210.0L500.0 208.7L501.0 208.2L502.0 207.7L503.0 206.4L504.0 204.7L505.0 203.6L506.0 202.7L507.0 201.9L508.0 200.6L509.0 199.6L510.0 198.5L511.0 197.2L512.0 196.2L513.0 195.1L514.0 193.9L515.0 193.0L516.0 192.3L517.0 190.7L518.0 189.4L519.0 187.6L520.0 187.2L521.0 185.3L522.0 184.3L523.0 184.0L524.0 182.8L525.0 181.3L526.0 179.7L527.0 179.0L528.0 177.7L529.0 177.0L530.0 176.4L531.0 174.5L532.0 173.0L533.0 171.7L534.0 170.9L535.0 169.7L536.0 168.2L537.0 167.5L538.0 165.8L539.0 165.5L540.0 164.3L541.0 163.1L542.0 161.4L543.0 160.5L544.0 159.1L545.0 157.9L546.0 156.7L547.0 155.2L548.0 154.0L549.0 153.6L550.0 152.0L551.0 151.0L552.0 150.0L553.0 147.9L554.0 147.0L555.0 146.2L556.0 145.0L557.0 143.6L558.0 142.9L559.0 141.4L560.0 139.7L561.0 138.6L562.0 138.0L563.0 136.7L564.0 134.7L565.0 134.7L566.0 133.2L567.0 132.3L568.0 130.5L569.0 129.4L570.0 128.0L571.0 128.1L572.0 126.0L573.0 125.5L574.0 123.6L575.0 122.7L576.0 121.0L577.0 120.3L578.0 119.7L579.0 117.8L580.0 117.5L581.0 116.1L582.0 114.5L583.0 113.6L584.0 112.5L585.0 111.6L586.0 110.3L587.0 109.2L588.0 108.3L589.0 106.9L590.0 105.7L591.0 105.1L592.0 104.4L593.0 102.4L594.0 101.9L595.0 100.6L596.0 99.4L597.0 99.0L598.0 97.4L599.0 97.1L600.0 95.2L601.0 94.6L602.0 93.3L603.0 92.1L604.0 91.5L605.0 90.1L606.0 89.4L607.0 88.1L608.0 86.7L609.0 86.0L610.0 85.0L611.0 84.2L612.0 82.5L613.0 81.8L614.0 80.2L615.0 80.0L616.0 78.3L617.0 77.0L618.0 76.6L619.0 76.0L620.0 74.1L621.0 73.2L622.0 72.3L623.0 71.1L624.0 70.6L625.0 69.2L626.0 68.0L627.0 67.7L628.0 67.4L629.0 68.2L630.0 67.9L631.0 68.1L632.0 68.2L633.0 69.7L634.0 69.3L635.0 69.8L636.0 70.0L637.0 70.4L638.0 70.7L639.0 71.7L640.0 71.1L641.0 71.3L642.0 71.9L643.0 72.3L644.0 73.4L645.0 73.9L646.0 73.8L647.0 74.1L648.0 75.0L649.0 76.1L650.0 75.2L651.0 76.9L652.0 76.9L653.0 78.2L654.0 78.0L655.0 78.9L656.0 79.1L657.0 79.9L658.0 81.3L659.0 81.7L660.0 81.9L661.0 82.4L662.0 82.8L663.0 84.0L664.0 84.8L665.0 85.6L666.0 86.3L667.0 86.7L668.0 87.9L669.0 88.7L670.0 90.0L671.0 91.1L672.0 91.3L673.0 91.9L674.0 93.1L675.0 93.8L676.0 94.8L677.0 96.0L678.0 96.7L679.0 98.3L680.0 99.1L681.0 100.4L682.0 101.3L683.0 102.3L684.0 103.4L685.0 104.8L686.0 105.9L687.0 107.5L688.0 108.6L689.0 109.6L690.0 111.6L691.0 112.7L692.0 114.6L693.0 116.4L694.0 117.4L695.0 119.8L696.0 121.4L697.0 122.9L698.0 124.2L699.0 125.5L700.0 126.4L701.0 127.7L702.0 128.5L703.0 129.7L704.0 130.0L705.0 131.3L706.0 132.0L707.0 132.6L708.0 133.2L709.0 134.1L710.0 133.8L711.0 135.0L712.0 135.4L713.0 135.9L714.0 136.3L715.0 136.4L716.0 137.0L717.0 137.8L718.0 138.2L719.0 138.7L720.0 138.7L721.0 140.1L722.0 141.2L723.0 142.0L724.0 142.7L725.0 143.0L726.0 144.9L727.0 145.5L728.0 145.7L729.0 147.8L730.0 148.1L731.0 149.1L732.0 150.3L733.0 151.8L734.0 152.2L735.0 153.3L736.0 154.7L737.0 155.6L738.0 155.9L739.0 156.8L740.0 157.3L741.0 158.5L742.0 159.8L743.0 160.8L744.0 161.6L745.0 162.9L746.0 163.3L747.0 164.7L748.0 166.0L749.0 167.1L750.0 168.4L751.0 169.4L752.0 170.5L753.0 172.2L754.0 173.2L755.0 174.6L756.0 177.1L757.0 178.5L758.0 180.3L759.0 181.3L760.0 183.4L761.0 184.9L762.0 186.4L763.0 187.3L764.0 189.3L765.0 191.0L766.0 191.9L767.0 192.4L768.0 193.3L769.0 194.2L770.0 193.6L771.0 195.0L772.0 195.7L773.0 196.2L774.0 197.0L775.0 197.2L776.0 197.4L777.0 197.9L778.0 198.5L779.0 198.6L780.0 199.2L781.0 200.1L782.0 200.9L783.0 200.7L784.0 201.2L785.0 201.8L786.0 202.7L787.0 202.8L788.0 203.8L789.0 203.5L790.0 204.4L791.0 205.0L792.0 206.0L793.0 206.7L794.0 206.5L795.0 207.4L796.0 208.6L797.0 209.1L798.0 209.6L799.0 211.4L800.0 212.1L801.0 213.0L802.0 213.5L803.0 215.0L804.0 215.5L805.0 216.9L806.0 217.1L807.0 218.1L808.0 219.4L809.0 220.0L810.0 221.4L811.0 222.2L812.0 222.6L813.0 223.9L814.0 224.6L815.0 225.8L816.0 226.1L817.0 227.0L818.0 228.3L819.0 229.5L820.0 230.2L821.0 230.4L822.0 231.2L823.0 232.5L824.0 232.7L825.0 233.2L826.0 234.3L827.0 235.2L828.0 235.5L829.0 235.9L830.0 236.7L831.0 238.2L832.0 238.3L833.0 239.2L834.0 240.0L835.0 240.7L836.0 241.0L837.0 241.9L838.0 242.0L839.0 242.7L840.0 243.1L841.0 244.4L842.0 244.5L843.0 244.8L844.0 245.5L845.0 246.1L846.0 246.9L847.0 246.6L848.0 247.3L849.0 248.0L850.0 249.4L851.0 249.3L852.0 249.4L853.0 250.0L854.0 250.9L855.0 250.4L856.0 250.7L857.0 251.6L858.0 251.7L859.0 252.0L860.0 251.9L861.0 253.1L862.0 253.3L863.0 253.2L864.0 253.5L865.0 252.8L866.0 254.0L867.0 254.0L868.0 254.4L869.0 254.7L870.0 254.5L871.0 254.2L872.0 255.1L873.0 254.8L874.0 255.1L875.0 255.1L876.0 255.3L877.0 254.7L878.0 256.1L879.0 255.8L880.0 256.2L881.0 256.7L882.0 256.1L883.0 255.5L884.0 255.9L885.0 255.9L886.0 256.2L887.0 256.5L888.0 255.8L889.0 256.7L890.0 256.1L891.0 256.8L892.0 256.7L893.0 256.6L894.0 256.7L895.0 256.6L896.0 256.5L897.0 256.2L898.0 256.7L899.0 257.4L900.0 257.4L901.0 257.2L902.0 257.0L903.0 256.5L904.0 257.3L905.0 256.7L906.0 256.7L907.0 256.6L908.0 256.8L909.0 256.6L910.0 256.7L911.0 256.4L912.0 256.6L913.0 257.5L914.0 256.7L915.0 256.7L916.0 256.9L917.0 257.0L918.0 256.4L919.0 256.7L920.0 257.1L921.0 256.8L922.0 256.8L923.0 257.3L924.0 256.5L925.0 256.7L926.0 256.5L927.0 257.1L928.0 255.9L929.0 256.3L930.0 256.3L931.0 256.7L932.0 256.6L933.0 256.9L934.0 255.8L935.0 256.5L936.0 256.1L937.0 255.9L938.0 256.3L939.0 255.7L940.0 255.2L941.0 255.8L942.0 255.3L943.0 255.5L944.0 255.8L945.0 255.7L946.0 256.1L947.0 255.4L948.0 254.9L949.0 255.1L950.0 255.0L951.0 254.8L952.0 255.3L953.0 254.9L954.0 254.4L955.0 255.2L956.0 254.9L957.0 255.0L958.0 254.9L959.0 255.0L960.0 254.7L961.0 255.1L962.0 254.8L963.0 254.7L964.0 254.6L965.0 253.9L966.0 254.3L967.0 254.2L968.0 254.4L969.0 253.7L970.0 254.7L971.0 254.1L972.0 253.6L973.0 253.4L974.0 253.8L975.0 253.8L976.0 253.6L977.0 253.8L978.0 253.5L979.0 253.8L980.0 253.3L981.0 253.5L982.0 253.8L983.0 254.3L984.0 253.0L985.0 253.1L986.0 252.9L987.0 253.4L988.0 252.7L989.0 252.9L990.0 253.0L991.0 252.6L992.0 252.5L993.0 252.7L994.0 252.0L995.0 252.2L996.0 252.5L997.0 252.7L998.0 252.5L999.0 251.9L1000.0 252.3L1001.0 252.7L1002.0 252.5L1003.0 252.2L1004.0 251.9L1005.0 252.4L1006.0 251.9L1007.0 251.6L1008.0 251.7L1009.0 252.4L1010.0 251.9L1011.0 252.2L1012.0 251.6L1013.0 252.0L1014.0 251.4L1015.0 251.5L1016.0 252.4L1017.0 251.7L1018.0 251.2L1019.0 251.3L1020.0 251.4L1021.0 251.6L1022.0 251.0L1023.0 250.5L1024.0 250.9L1025.0 250.9L1026.0 250.9L1027.0 251.3L1028.0 250.9L1029.0 251.0L1030.0 250.2L1031.0 250.9L1032.0 251.2L1033.0 250.7L1034.0 250.4L1035.0 250.3L1036.0 250.8L1037.0 249.8L1038.0 250.0L1039.0 250.2L1040.0 250.2L1041.0 249.7L1042.0 249.9L1043.0 249.6L1044.0 249.7L1045.0 249.6L1046.0 249.1L1047.0 249.5L1048.0 249.7L1049.0 249.0L1050.0 249.2"/>
<path stroke-width="4.4" d="M155.0 740.0L156.0 738.8L157.0 739.6L158.0 738.8L159.0 740.3L160.0 741.1L161.0 740.9L162.0 739.3L163.0 740.0L164.0 739.6L165.0 739.6L166.0 740.6L167.0 738.6L168.0 740.2L169.0 739.5L170.0 740.5L171.0 739.6L172.0 739.0L173.0 739.7L174.0 740.0L175.0 739.5L176.0 739.8L177.0 739.1L178.0 738.0L179.0 740.1L180.0 740.0L181.0 739.6L182.0 739.5L183.0 740.2L184.0 739.2L185.0 739.0L186.0 739.4L187.0 740.3L188.0 738.5L189.0 740.3L190.0 739.1L191.0 738.7L192.0 740.4L193.0 739.4L194.0 738.6L195.0 739.2L196.0 740.1L197.0 740.3L198.0 739.1L199.0 739.6L200.0 739.8L201.0 738.7L202.0 739.3L203.0 738.9L204.0 738.4L205.0 738.3L206.0 738.6L207.0 738.4L208.0 737.8L209.0 737.7L210.0 738.6L211.0 737.8L212.0 738.1L213.0 738.1L214.0 737.5L215.0 738.5L216.0 736.1L217.0 737.1L218.0 736.1L219.0 737.5L220.0 737.2L221.0 734.5L222.0 735.0L223.0 736.0L224.0 735.9L225.0 735.8L226.0 735.1L227.0 735.3L228.0 735.3L229.0 734.7L230.0 735.4L231.0 732.9L232.0 734.9L233.0 733.6L234.0 734.9L235.0 733.9L236.0 733.3L237.0 734.1L238.0 733.1L239.0 733.0L240.0 732.4L241.0 733.4L242.0 733.7L243.0 733.9L244.0 733.0L245.0 733.7L246.0 732.9L247.0 732.7L248.0 733.1L249.0 733.3L250.0 732.2L251.0 732.2L252.0 732.1L253.0 732.2L254.0 731.4L255.0 732.6L256.0 731.5L257.0 732.0L258.0 731.0L259.0 731.7L260.0 731.6L261.0 730.9L262.0 732.5L263.0 731.2L264.0 732.0L265.0 731.3L266.0 730.1L267.0 730.1L268.0 730.6L269.0 730.2L270.0 730.0L271.0 729.6L272.0 728.4L273.0 729.4L274.0 727.8L275.0 729.5L276.0 728.6L277.0 728.4L278.0 728.6L279.0 728.8L280.0 727.5L281.0 727.1L282.0 727.4L283.0 726.6L284.0 727.2L285.0 728.8L286.0 726.8L287.0 727.8L288.0 726.3L289.0 727.3L290.0 726.7L291.0 726.7L292.0 727.0L293.0 727.6L294.0 726.4L295.0 726.2L296.0 725.2L297.0 726.2L298.0 725.4L299.0 726.0L300.0 725.2L301.0 726.3L302.0 723.5L303.0 724.5L304.0 725.2L305.0 724.2L306.0 723.7L307.0 723.9L308.0 722.9L309.0 723.8L310.0 725.3L311.0 724.2L312.0 722.4L313.0 722.4L314.0 722.6L315.0 723.4L316.0 721.9L317.0 721.9L318.0 722.8L319.0 722.6L320.0 721.5L321.0 720.8L322.0 720.4L323.0 720.8L324.0 719.5L325.0 721.4L326.0 720.3L327.0 720.9L328.0 721.6L329.0 721.0L330.0 719.1L331.0 720.4L332.0 720.4L333.0 718.9L334.0 718.5L335.0 718.9L336.0 717.7L337.0 719.6L338.0 716.7L339.0 717.4L340.0 717.8L341.0 717.6L342.0 717.7L343.0 717.6L344.0 717.1L345.0 717.8L346.0 715.3L347.0 716.6L348.0 715.9L349.0 716.3L350.0 716.1L351.0 715.1L352.0 715.1L353.0 715.9L354.0 715.4L355.0 714.4L356.0 716.1L357.0 716.1L358.0 713.2L359.0 714.3L360.0 715.6L361.0 714.2L362.0 713.5L363.0 713.0L364.0 712.5L365.0 712.5L366.0 712.1L367.0 712.7L368.0 711.7L369.0 711.4L370.0 710.7L371.0 711.2L372.0 710.4L373.0 710.6L374.0 711.2L375.0 710.5L376.0 710.3L377.0 710.0L378.0 709.5L379.0 709.1L380.0 708.7L381.0 709.2L382.0 707.6L383.0 709.0L384.0 707.8L385.0 706.9L386.0 706.8L387.0 706.4L388.0 706.7L389.0 705.7L390.0 706.7L391.0 705.1L392.0 703.7L393.0 704.5L394.0 703.3L395.0 704.3L396.0 704.8L397.0 704.2L398.0 702.5L399.0 702.5L400.0 704.0L401.0 702.6L402.0 702.1L403.0 702.5L404.0 703.2L405.0 702.0L406.0 700.9L407.0 700.7L408.0 700.6L409.0 699.4L410.0 698.7L411.0 699.1L412.0 698.1L413.0 698.4L414.0 698.1L415.0 699.4L416.0 696.8L417.0 696.9L418.0 696.5L419.0 696.6L420.0 696.6L421.0 695.2L422.0 694.6L423.0 693.6L424.0 693.7L425.0 694.4L426.0 693.6L427.0 692.5L428.0 692.5L429.0 692.4L430.0 692.3L431.0 691.1L432.0 690.9L433.0 689.3L434.0 689.3L435.0 690.8L436.0 687.7L437.0 688.5L438.0 688.5L439.0 687.6L440.0 686.8L441.0 686.9L442.0 686.5L443.0 686.0L444.0 684.2L445.0 685.0L446.0 684.0L447.0 683.8L448.0 683.8L449.0 683.6L450.0 683.3L451.0 681.9L452.0 682.4L453.0 682.1L454.0 681.6L455.0 681.3L456.0 679.7L457.0 679.2L458.0 679.4L459.0 677.3L460.0 677.9L461.0 676.9L462.0 676.5L463.0 675.1L464.0 675.1L465.0 675.2L466.0 675.4L467.0 674.9L468.0 673.6L469.0 673.0L470.0 672.0L471.0 672.4L472.0 671.4L473.0 671.4L474.0 671.7L475.0 669.9L476.0 668.3L477.0 668.2L478.0 667.3L479.0 666.9L480.0 668.1L481.0 666.8L482.0 665.0L483.0 665.9L484.0 665.8L485.0 664.1L486.0 663.3L487.0 663.0L488.0 662.8L489.0 662.5L490.0 662.3L491.0 661.8L492.0 661.2L493.0 660.7L494.0 659.6L495.0 657.5L496.0 657.9L497.0 657.6L498.0 656.5L499.0 656.8L500.0 655.3L501.0 654.3L502.0 655.3L503.0 654.2L504.0 653.2L505.0 653.1L506.0 652.6L507.0 651.5L508.0 648.9L509.0 649.6L510.0 649.1L511.0 648.2L512.0 648.4L513.0 648.5L514.0 646.7L515.0 645.7L516.0 647.3L517.0 645.0L518.0 643.9L519.0 644.4L520.0 643.9L521.0 642.6L522.0 643.1L523.0 641.6L524.0 640.8L525.0 641.0L526.0 640.8L527.0 639.3L528.0 639.4L529.0 638.6L530.0 640.1L531.0 637.1L532.0 638.0L533.0 636.4L534.0 635.8L535.0 635.9L536.0 635.5L537.0 635.2L538.0 634.0L539.0 632.9L540.0 632.4L541.0 632.6L542.0 632.1L543.0 632.1L544.0 630.9L545.0 630.8L546.0 630.6L547.0 629.1L548.0 627.4L549.0 627.0L550.0 626.3L551.0 627.9L552.0 625.7L553.0 626.7L554.0 625.7L555.0 626.0L556.0 625.1L557.0 623.9L558.0 623.4L559.0 623.2L560.0 622.9L561.0 622.0L562.0 622.0L563.0 622.8L564.0 620.2L565.0 621.2L566.0 620.1L567.0 620.5L568.0 620.7L569.0 619.8L570.0 620.1L571.0 618.2L572.0 619.8L573.0 618.4L574.0 619.1L575.0 618.6L576.0 616.5L577.0 617.7L578.0 618.2L579.0 619.0L580.0 618.0L581.0 617.9L582.0 616.6L583.0 618.5L584.0 618.7L585.0 617.3L586.0 617.1L587.0 616.1L588.0 617.9L589.0 619.2L590.0 617.9L591.0 618.5L592.0 618.1L593.0 617.3L594.0 619.2L595.0 617.7L596.0 618.7L597.0 619.4L598.0 620.2L599.0 620.2L600.0 620.5L601.0 620.1L602.0 620.2L603.0 621.7L604.0 621.8L605.0 622.1L606.0 622.9L607.0 624.2L608.0 624.0L609.0 625.3L610.0 625.9L611.0 628.1L612.0 629.1L613.0 631.1L614.0 629.6L615.0 631.0L616.0 633.0L617.0 633.2L618.0 634.1L619.0 636.6L620.0 636.3L621.0 636.8L622.0 637.8L623.0 640.0L624.0 641.0L625.0 640.8L626.0 642.0L627.0 644.0L628.0 644.8L629.0 644.8L630.0 646.6L631.0 647.4L632.0 646.6L633.0 648.2L634.0 649.1L635.0 648.6L636.0 647.4L637.0 648.6L638.0 649.0L639.0 649.3L640.0 646.2L641.0 649.1L642.0 646.0L643.0 646.9L644.0 646.6L645.0 645.9L646.0 644.8L647.0 643.3L648.0 643.9L649.0 642.2L650.0 640.2L651.0 643.2L652.0 640.8L653.0 640.8L654.0 638.0L655.0 638.8L656.0 638.1L657.0 637.3L658.0 635.4L659.0 633.8L660.0 633.9L661.0 631.8L662.0 631.5L663.0 632.1L664.0 630.7L665.0 630.6L666.0 630.0L667.0 630.8L668.0 629.8L669.0 628.2L670.0 628.5L671.0 626.6L672.0 626.3L673.0 626.7L674.0 624.7L675.0 624.9L676.0 623.7L677.0 624.3L678.0 625.0L679.0 622.9L680.0 623.2L681.0 622.0L682.0 621.4L683.0 621.0L684.0 622.5L685.0 622.8L686.0 621.1L687.0 619.9L688.0 620.6L689.0 619.6L690.0 620.2L691.0 619.6L692.0 619.4L693.0 619.5L694.0 618.6L695.0 618.7L696.0 617.8L697.0 618.8L698.0 618.3L699.0 619.4L700.0 619.0L701.0 620.1L702.0 620.6L703.0 619.7L704.0 620.5L705.0 620.8L706.0 622.9L707.0 625.1L708.0 626.5L709.0 627.6L710.0 630.7L711.0 629.9L712.0 632.5L713.0 630.6L714.0 628.1L715.0 630.4L716.0 627.8L717.0 624.1L718.0 623.1L719.0 621.2L720.0 620.3L721.0 618.4L722.0 618.2L723.0 618.2L724.0 617.4L725.0 617.4L726.0 616.0L727.0 617.1L728.0 614.5L729.0 614.9L730.0 613.2L731.0 613.5L732.0 615.1L733.0 613.4L734.0 614.3L735.0 613.7L736.0 613.0L737.0 613.4L738.0 613.2L739.0 613.2L740.0 614.0L741.0 614.0L742.0 613.3L743.0 613.3L744.0 614.4L745.0 614.5L746.0 615.7L747.0 617.3L748.0 616.5L749.0 616.3L750.0 616.7L751.0 616.7L752.0 617.2L753.0 617.5L754.0 618.4L755.0 618.7L756.0 619.9L757.0 619.4L758.0 619.9L759.0 619.6L760.0 622.0L761.0 621.5L762.0 622.8L763.0 622.5L764.0 623.3L765.0 622.4L766.0 623.4L767.0 625.1L768.0 622.6L769.0 624.5L770.0 625.0L771.0 624.2L772.0 624.5L773.0 624.9L774.0 623.5L775.0 624.2L776.0 623.3L777.0 623.4L778.0 623.4L779.0 623.6L780.0 623.7L781.0 623.9L782.0 622.4L783.0 624.7L784.0 624.0L785.0 623.6L786.0 622.7L787.0 622.8L788.0 623.1L789.0 622.8L790.0 621.1L791.0 622.5L792.0 623.8L793.0 620.0L794.0 621.7L795.0 620.8L796.0 620.0L797.0 620.6L798.0 618.3L799.0 618.7L800.0 619.1L801.0 617.4L802.0 616.7L803.0 616.5L804.0 615.5L805.0 616.4L806.0 614.0L807.0 614.6L808.0 612.3L809.0 612.9L810.0 611.6L811.0 608.9L812.0 609.9L813.0 608.2L814.0 607.6L815.0 608.1L816.0 605.1L817.0 604.1L818.0 604.9L819.0 602.9L820.0 602.8L821.0 600.9L822.0 599.0L823.0 598.5L824.0 598.4L825.0 597.2L826.0 595.5L827.0 594.5L828.0 593.3L829.0 591.8L830.0 592.5L831.0 590.0L832.0 588.1L833.0 587.4L834.0 587.1L835.0 585.9L836.0 584.2L837.0 582.7L838.0 582.0L839.0 579.6L840.0 578.8L841.0 579.1L842.0 577.1L843.0 576.6L844.0 576.1L845.0 574.6L846.0 573.1L847.0 573.5L848.0 571.5L849.0 569.7L850.0 569.5L851.0 568.2L852.0 566.3L853.0 566.0L854.0 564.8L855.0 562.5L856.0 562.8L857.0 561.8L858.0 560.7L859.0 558.9L860.0 558.9L861.0 558.1L862.0 557.3L863.0 555.5L864.0 555.9L865.0 553.7L866.0 553.5L867.0 553.7L868.0 551.4L869.0 550.7L870.0 551.0L871.0 549.2L872.0 548.4L873.0 548.0L874.0 547.8L875.0 544.6L876.0 544.8L877.0 543.9L878.0 543.1L879.0 542.5L880.0 541.8L881.0 541.8L882.0 540.2L883.0 540.2L884.0 539.7L885.0 538.2L886.0 538.2L887.0 538.6L888.0 537.0L889.0 535.6L890.0 535.4L891.0 534.2L892.0 534.5L893.0 534.3L894.0 532.5L895.0 532.4L896.0 532.8L897.0 531.0L898.0 530.9L899.0 529.5L900.0 529.1L901.0 528.7L902.0 530.1L903.0 527.7L904.0 527.1L905.0 526.6L906.0 526.5L907.0 526.6L908.0 525.9L909.0 526.9L910.0 525.3L911.0 525.8L912.0 524.8L913.0 524.8L914.0 523.2L915.0 524.0L916.0 523.8L917.0 523.6L918.0 522.1L919.0 524.0L920.0 523.0L921.0 522.9L922.0 522.9L923.0 522.8L924.0 523.2L925.0 521.9L926.0 522.1L927.0 523.0L928.0 522.9L929.0 522.6L930.0 522.6L931.0 522.6L932.0 523.4L933.0 524.6L934.0 523.3L935.0 525.5L936.0 525.5L937.0 525.0L938.0 526.3L939.0 525.2L940.0 525.4L941.0 526.2L942.0 527.2L943.0 527.7L944.0 528.0L945.0 528.8L946.0 527.7L947.0 530.0L948.0 529.1L949.0 530.2L950.0 530.9L951.0 531.0L952.0 531.6L953.0 532.6L954.0 534.2L955.0 536.0L956.0 537.7L957.0 538.8L958.0 541.2L959.0 543.5L960.0 546.8L961.0 547.5L962.0 552.3L963.0 553.8L964.0 556.5L965.0 560.1L966.0 563.5L967.0 566.0L968.0 569.3L969.0 571.4L970.0 574.9L971.0 577.4L972.0 579.0L973.0 582.6L974.0 584.2L975.0 586.6L976.0 588.4L977.0 591.2L978.0 594.3L979.0 595.2L980.0 598.9L981.0 600.9L982.0 603.1L983.0 603.5L984.0 607.2L985.0 609.9L986.0 611.0L987.0 613.8L988.0 614.1L989.0 618.3L990.0 619.4L991.0 622.4L992.0 622.4L993.0 626.0L994.0 627.1L995.0 629.6L996.0 630.0L997.0 631.8L998.0 635.3L999.0 634.6L1000.0 636.2L1001.0 637.9L1002.0 638.7L1003.0 641.6L1004.0 643.3L1005.0 642.9L1006.0 643.4L1007.0 646.7L1008.0 647.9L1009.0 648.9L1010.0 650.4L1011.0 650.2L1012.0 651.9L1013.0 652.3L1014.0 653.4L1015.0 656.2L1016.0 656.2L1017.0 659.2L1018.0 658.6L1019.0 659.0L1020.0 660.8L1021.0 662.2L1022.0 662.0L1023.0 661.5L1024.0 663.2L1025.0 664.5L1026.0 663.8L1027.0 664.1L1028.0 665.9L1029.0 665.8L1030.0 665.4L1031.0 666.4L1032.0 666.6L1033.0 667.7L1034.0 668.0L1035.0 669.2L1036.0 669.3L1037.0 668.1L1038.0 669.9L1039.0 670.6L1040.0 670.7L1041.0 671.5L1042.0 670.7L1043.0 670.8L1044.0 672.5L1045.0 671.4L1046.0 670.9L1047.0 673.4L1048.0 672.5L1049.0 673.0L1050.0 672.5"/>
<path stroke-width="2.4" fill="#000" d="M155.0 1086.5L156.2 1082.2L157.5 1087.6L158.8 1086.6L160.0 1087.5L161.2 1087.9L162.5 1086.5L163.8 1085.4L165.0 1085.1L166.2 1087.8L167.5 1084.5L168.8 1086.9L170.0 1086.8L171.2 1084.8L172.5 1084.6L173.8 1085.1L175.0 1086.6L176.2 1086.2L177.5 1085.0L178.8 1087.0L180.0 1085.8L181.2 1086.4L182.5 1088.0L183.8 1087.0L185.0 1089.5L186.2 1088.7L187.5 1089.7L188.8 1091.4L190.0 1091.2L191.2 1091.4L192.5 1092.1L193.8 1094.0L195.0 1091.2L196.2 1091.7L197.5 1095.5L198.8 1092.6L200.0 1094.5L201.2 1096.4L202.5 1094.3L203.8 1096.0L205.0 1095.4L206.2 1095.2L207.5 1096.5L208.8 1098.5L210.0 1095.9L211.2 1096.4L212.5 1095.7L213.8 1098.0L215.0 1096.1L216.2 1095.7L217.5 1097.5L218.8 1097.3L220.0 1097.4L221.2 1098.5L222.5 1097.6L223.8 1097.0L225.0 1096.2L226.2 1095.1L227.5 1096.1L228.8 1095.0L230.0 1094.7L231.2 1092.6L232.5 1089.1L233.8 1088.1L235.0 1085.9L236.2 1085.3L237.5 1084.4L238.8 1083.1L240.0 1085.4L241.2 1084.5L242.5 1083.9L243.8 1086.1L245.0 1082.8L246.2 1084.5L247.5 1085.5L248.8 1083.5L250.0 1083.3L251.2 1084.0L252.5 1082.9L253.8 1086.3L255.0 1085.5L256.2 1085.8L257.5 1086.4L258.8 1088.8L260.0 1085.8L261.2 1089.3L262.5 1091.6L263.8 1091.9L265.0 1090.7L266.2 1091.2L267.5 1091.6L268.8 1091.1L270.0 1094.2L271.2 1091.8L272.5 1093.1L273.8 1092.0L275.0 1093.8L276.2 1093.2L277.5 1091.8L278.8 1088.8L280.0 1089.0L281.2 1084.1L282.5 1078.9L283.8 1079.6L285.0 1076.9L286.2 1079.3L287.5 1078.1L288.8 1077.7L290.0 1077.4L291.2 1069.5L292.5 1076.8L293.8 1080.3L295.0 1078.0L296.2 1078.8L297.5 1080.2L298.8 1078.3L300.0 1077.7L301.2 1079.9L302.5 1077.6L303.8 1074.1L305.0 1081.4L306.2 1078.2L307.5 1080.6L308.8 1079.1L310.0 1079.4L311.2 1081.2L312.5 1078.0L313.8 1078.0L315.0 1081.0L316.2 1079.9L317.5 1077.4L318.8 1076.7L320.0 1076.8L321.2 1078.7L322.5 1079.3L323.8 1078.8L325.0 1080.1L326.2 1078.3L327.5 1079.5L328.8 1079.8L330.0 1078.4L331.2 1079.9L332.5 1077.6L333.8 1076.2L335.0 1076.2L336.2 1074.3L337.5 1074.6L338.8 1075.7L340.0 1074.0L341.2 1076.2L342.5 1074.1L343.8 1076.6L345.0 1075.1L346.2 1072.5L347.5 1074.3L348.8 1074.7L350.0 1073.0L351.2 1075.4L352.5 1072.5L353.8 1076.6L355.0 1075.3L356.2 1075.5L357.5 1074.9L358.8 1071.1L360.0 1075.9L361.2 1074.3L362.5 1072.7L363.8 1071.9L365.0 1071.4L366.2 1073.3L367.5 1074.1L368.8 1070.6L370.0 1074.4L371.2 1074.6L372.5 1073.6L373.8 1072.1L375.0 1069.6L376.2 1070.7L377.5 1071.5L378.8 1071.6L380.0 1070.7L381.2 1071.0L382.5 1072.4L383.8 1073.7L385.0 1073.0L386.2 1069.9L387.5 1070.6L388.8 1060.7L390.0 1073.7L391.2 1069.0L392.5 1071.8L393.8 1068.8L395.0 1070.5L396.2 1070.7L397.5 1069.2L398.8 1070.1L400.0 1069.8L401.2 1072.4L402.5 1070.0L403.8 1071.2L405.0 1072.6L406.2 1072.2L407.5 1070.3L408.8 1071.3L410.0 1068.5L411.2 1071.8L412.5 1071.8L413.8 1066.9L415.0 1070.5L416.2 1069.3L417.5 1070.7L418.8 1070.6L420.0 1069.4L421.2 1067.2L422.5 1068.6L423.8 1066.5L425.0 1065.5L426.2 1067.6L427.5 1068.4L428.8 1068.8L430.0 1068.7L431.2 1067.6L432.5 1064.3L433.8 1068.5L435.0 1063.8L436.2 1064.0L437.5 1067.0L438.8 1066.2L440.0 1062.1L441.2 1061.9L442.5 1063.2L443.8 1059.6L445.0 1062.3L446.2 1060.4L447.5 1061.3L448.8 1057.5L450.0 1059.7L451.2 1058.3L452.5 1054.2L453.8 1054.8L455.0 1053.0L456.2 1051.8L457.5 1051.6L458.8 1053.0L460.0 1049.5L461.2 1052.0L462.5 1042.0L463.8 1048.9L465.0 1050.1L466.2 1049.7L467.5 1046.3L468.8 1045.3L470.0 1044.8L471.2 1046.4L472.5 1047.1L473.8 1045.0L475.0 1044.3L476.2 1042.0L477.5 1046.6L478.8 1041.5L480.0 1030.8L481.2 1043.9L482.5 1041.5L483.8 1040.6L485.0 1041.2L486.2 1042.8L487.5 1040.6L488.8 1038.8L490.0 1042.6L491.2 1040.2L492.5 1042.2L493.8 1037.3L495.0 1037.2L496.2 1040.7L497.5 1036.4L498.8 1036.3L500.0 1038.9L501.2 1036.2L502.5 1034.8L503.8 1036.3L505.0 1034.8L506.2 1031.7L507.5 1033.1L508.8 1033.3L510.0 1035.1L511.2 1034.3L512.5 1029.6L513.8 1029.7L515.0 1028.5L516.2 1029.3L517.5 1028.7L518.8 1028.3L520.0 1026.4L521.2 1027.9L522.5 1026.2L523.8 1025.6L525.0 1023.8L526.2 1025.4L527.5 1025.7L528.8 1024.5L530.0 1023.2L531.2 1018.6L532.5 1018.6L533.8 1017.6L535.0 1018.5L536.2 1019.7L537.5 1016.9L538.8 1013.9L540.0 1015.2L541.2 1013.8L542.5 1014.6L543.8 1015.2L545.0 1007.3L546.2 1011.9L547.5 1012.0L548.8 1011.8L550.0 1008.7L551.2 1010.2L552.5 1008.0L553.8 1009.2L555.0 1005.7L556.2 1007.3L557.5 1006.1L558.8 992.5L560.0 1003.5L561.2 1002.8L562.5 1004.5L563.8 1001.1L565.0 1003.2L566.2 999.2L567.5 999.2L568.8 999.9L570.0 998.3L571.2 998.7L572.5 997.7L573.8 1000.8L575.0 995.1L576.2 989.0L577.5 999.2L578.8 998.3L580.0 995.9L581.2 994.5L582.5 989.4L583.8 993.2L585.0 997.4L586.2 993.8L587.5 996.0L588.8 998.6L590.0 1000.4L591.2 1003.1L592.5 1004.1L593.8 1001.1L595.0 1000.7L596.2 1000.1L597.5 1004.7L598.8 990.8L600.0 1006.3L601.2 1001.4L602.5 1002.1L603.8 1009.5L605.0 1004.1L606.2 1006.4L607.5 1007.4L608.8 1007.2L610.0 1011.3L611.2 1013.1L612.5 1016.2L613.8 1013.4L615.0 1015.3L616.2 1025.0L617.5 1021.4L618.8 1014.5L620.0 1032.5L621.2 1034.9L622.5 1033.5L623.8 1038.9L625.0 1041.8L626.2 1045.8L627.5 1046.1L628.8 1044.1L630.0 1054.3L631.2 1052.0L632.5 1053.1L633.8 1060.8L635.0 1060.2L636.2 1055.8L637.5 1056.7L638.8 1059.8L640.0 1068.2L641.2 1063.8L642.5 1068.3L643.8 1072.4L645.0 1070.6L646.2 1061.5L647.5 1068.9L648.8 1074.5L650.0 1078.6L651.2 1071.5L652.5 1071.6L653.8 1061.4L655.0 1070.6L656.2 1078.4L657.5 1077.7L658.8 1080.4L660.0 1082.2L661.2 1074.7L662.5 1083.6L663.8 1086.1L665.0 1084.3L666.2 1078.0L667.5 1086.6L668.8 1080.1L670.0 1079.4L671.2 1082.8L672.5 1081.0L673.8 1084.1L675.0 1080.0L676.2 1079.5L677.5 1079.1L678.8 1081.0L680.0 1076.9L681.2 1077.6L682.5 1080.0L683.8 1079.0L685.0 1082.1L686.2 1077.1L687.5 1074.1L688.8 1077.5L690.0 1081.4L691.2 1065.7L692.5 1081.9L693.8 1079.1L695.0 1081.1L696.2 1080.2L697.5 1076.6L698.8 1079.9L700.0 1077.7L701.2 1078.2L702.5 1074.2L703.8 1077.7L705.0 1075.8L706.2 1069.9L707.5 1072.9L708.8 1072.2L710.0 1070.1L711.2 1074.2L712.5 1070.4L713.8 1069.4L715.0 1068.8L716.2 1068.2L717.5 1070.5L718.8 1069.6L720.0 1060.0L721.2 1065.1L722.5 1065.5L723.8 1065.2L725.0 1060.8L726.2 1060.6L727.5 1055.1L728.8 1054.3L730.0 1049.7L731.2 1050.1L732.5 1045.5L733.8 1044.1L735.0 1038.0L736.2 1035.8L737.5 1033.9L738.8 1027.7L740.0 1025.8L741.2 1024.2L742.5 1019.1L743.8 1017.9L745.0 1012.7L746.2 1012.1L747.5 1006.5L748.8 1007.0L750.0 1001.7L751.2 1000.6L752.5 997.6L753.8 994.3L755.0 993.9L756.2 990.8L757.5 988.8L758.8 984.4L760.0 983.9L761.2 980.9L762.5 979.5L763.8 977.9L765.0 974.1L766.2 974.0L767.5 972.1L768.8 970.6L770.0 969.1L771.2 969.5L772.5 969.0L773.8 966.9L775.0 966.9L776.2 966.6L777.5 963.3L778.8 963.3L780.0 963.3L781.2 963.6L782.5 960.4L783.8 962.6L785.0 964.4L786.2 963.4L787.5 965.0L788.8 966.8L790.0 969.0L791.2 972.8L792.5 977.9L793.8 982.4L795.0 987.3L796.2 993.4L797.5 1000.2L798.8 1006.0L800.0 1009.3L801.2 1014.1L802.5 1016.0L803.8 1018.2L805.0 1019.0L806.2 1019.3L807.5 1017.7L808.8 1016.9L810.0 1014.4L811.2 1012.6L812.5 1012.0L813.8 1006.9L815.0 1001.3L816.2 996.4L817.5 992.1L818.8 986.0L820.0 984.0L821.2 979.4L822.5 974.1L823.8 972.6L825.0 970.6L826.2 967.4L827.5 966.8L828.8 966.5L830.0 966.5L831.2 965.4L832.5 962.9L833.8 963.0L835.0 964.8L836.2 963.6L837.5 965.6L838.8 966.4L840.0 969.6L841.2 972.2L842.5 974.7L843.8 976.1L845.0 977.0L846.2 979.8L847.5 982.9L848.8 986.2L850.0 990.8L851.2 991.7L852.5 989.6L853.8 995.0L855.0 999.6L856.2 1000.0L857.5 1001.0L858.8 1002.1L860.0 1007.4L861.2 1006.5L862.5 1009.3L863.8 1010.0L865.0 1011.2L866.2 1009.4L867.5 1016.3L868.8 1012.1L870.0 1013.2L871.2 1012.8L872.5 1018.1L873.8 1018.0L875.0 1016.0L876.2 1014.1L877.5 1009.3L878.8 1020.1L880.0 1017.6L881.2 1015.2L882.5 1016.0L883.8 1015.9L885.0 1019.4L886.2 1020.4L887.5 1013.0L888.8 1016.2L890.0 1015.5L891.2 1018.7L892.5 1019.2L893.8 1019.3L895.0 1014.3L896.2 1013.6L897.5 1016.8L898.8 1004.6L900.0 1016.9L901.2 1008.7L902.5 1015.2L903.8 1017.7L905.0 1017.4L906.2 1017.4L907.5 1017.4L908.8 1015.7L910.0 1018.6L911.2 1014.1L912.5 1018.0L913.8 1016.3L915.0 1015.0L916.2 1017.8L917.5 1015.8L918.8 1014.3L920.0 1013.6L921.2 1011.2L922.5 1010.7L923.8 1012.3L925.0 1008.5L926.2 1008.5L927.5 1006.9L928.8 1007.4L930.0 1005.2L931.2 1003.2L932.5 1001.6L933.8 1000.2L935.0 1000.2L936.2 996.9L937.5 996.0L938.8 994.1L940.0 991.9L941.2 991.4L942.5 988.2L943.8 986.5L945.0 984.7L946.2 983.8L947.5 981.1L948.8 979.5L950.0 975.1L951.2 971.6L952.5 970.3L953.8 962.9L955.0 961.9L956.2 960.1L957.5 954.3L958.8 952.1L960.0 949.4L961.2 946.9L962.5 941.8L963.8 939.8L965.0 936.2L966.2 934.0L967.5 929.9L968.8 927.5L970.0 923.6L971.2 921.3L972.5 918.6L973.8 917.2L975.0 915.2L976.2 910.8L977.5 908.3L978.8 906.8L980.0 904.1L981.2 902.8L982.5 901.6L983.8 900.6L985.0 899.4L986.2 897.8L987.5 897.2L988.8 895.7L990.0 894.7L991.2 895.2L992.5 894.3L993.8 894.9L995.0 894.5L996.2 896.1L997.5 898.2L998.8 900.1L1000.0 902.1L1001.2 905.1L1002.5 905.4L1003.8 909.9L1005.0 913.4L1006.2 918.8L1007.5 923.5L1008.8 926.8L1010.0 933.0L1011.2 940.2L1012.5 947.1L1013.8 953.3L1015.0 962.9L1016.2 973.9L1017.5 983.6L1018.8 992.4L1020.0 1000.6L1021.2 1005.4L1022.5 1011.2L1023.8 1014.9L1025.0 1018.9L1026.2 1023.6L1027.5 1026.5L1028.8 1030.2L1030.0 1034.6L1031.2 1039.6L1032.5 1042.8L1033.8 1044.9L1035.0 1047.3L1036.2 1050.4L1037.5 1052.2L1038.8 1056.0L1040.0 1056.7L1041.2 1058.9L1042.5 1061.3L1043.8 1063.5L1045.0 1063.0L1046.2 1067.1L1047.5 1067.7L1048.8 1068.8L1050.0 1070.0L1050.0 1075.3L1048.8 1075.1L1047.5 1073.7L1046.2 1072.0L1045.0 1071.6L1043.8 1070.1L1042.5 1066.9L1041.2 1065.2L1040.0 1063.7L1038.8 1060.4L1037.5 1058.1L1036.2 1056.2L1035.0 1053.6L1033.8 1051.4L1032.5 1047.6L1031.2 1045.3L1030.0 1040.6L1028.8 1036.5L1027.5 1032.6L1026.2 1029.1L1025.0 1024.4L1023.8 1020.6L1022.5 1016.8L1021.2 1011.6L1020.0 1005.0L1018.8 998.1L1017.5 988.5L1016.2 983.1L1015.0 969.7L1013.8 961.3L1012.5 953.5L1011.2 946.0L1010.0 939.7L1008.8 933.0L1007.5 927.7L1006.2 923.9L1005.0 920.9L1003.8 917.2L1002.5 913.3L1001.2 910.2L1000.0 907.8L998.8 906.5L997.5 904.3L996.2 902.5L995.0 901.5L993.8 900.7L992.5 900.4L991.2 900.1L990.0 900.8L988.8 902.6L987.5 904.1L986.2 905.5L985.0 905.5L983.8 907.3L982.5 909.9L981.2 911.4L980.0 912.8L978.8 914.9L977.5 916.6L976.2 918.8L975.0 922.7L973.8 928.4L972.5 927.7L971.2 929.9L970.0 933.1L968.8 935.1L967.5 938.9L966.2 940.6L965.0 943.8L963.8 946.4L962.5 951.7L961.2 953.0L960.0 956.7L958.8 961.4L957.5 964.5L956.2 967.9L955.0 971.2L953.8 973.4L952.5 978.3L951.2 980.6L950.0 985.7L948.8 988.4L947.5 988.7L946.2 993.1L945.0 995.0L943.8 997.1L942.5 997.6L941.2 1001.0L940.0 1002.0L938.8 1002.7L937.5 1005.8L936.2 1007.7L935.0 1008.0L933.8 1009.3L932.5 1011.4L931.2 1012.9L930.0 1014.2L928.8 1017.4L927.5 1019.3L926.2 1020.1L925.0 1020.3L923.8 1024.0L922.5 1024.6L921.2 1028.7L920.0 1028.3L918.8 1031.8L917.5 1030.1L916.2 1031.4L915.0 1037.2L913.8 1037.5L912.5 1039.0L911.2 1037.3L910.0 1039.6L908.8 1039.5L907.5 1038.5L906.2 1040.1L905.0 1038.3L903.8 1040.3L902.5 1038.6L901.2 1039.0L900.0 1043.4L898.8 1040.8L897.5 1043.4L896.2 1042.3L895.0 1041.3L893.8 1043.9L892.5 1040.5L891.2 1043.7L890.0 1045.4L888.8 1041.7L887.5 1044.7L886.2 1039.1L885.0 1041.1L883.8 1045.3L882.5 1044.4L881.2 1041.6L880.0 1040.4L878.8 1042.3L877.5 1041.0L876.2 1038.8L875.0 1051.4L873.8 1038.8L872.5 1040.2L871.2 1036.3L870.0 1037.8L868.8 1032.9L867.5 1031.3L866.2 1032.0L865.0 1035.0L863.8 1029.9L862.5 1031.5L861.2 1027.6L860.0 1024.5L858.8 1024.8L857.5 1018.9L856.2 1016.0L855.0 1012.3L853.8 1011.5L852.5 1008.7L851.2 1003.2L850.0 1001.9L848.8 997.9L847.5 995.0L846.2 990.8L845.0 989.5L843.8 986.4L842.5 983.3L841.2 979.9L840.0 977.3L838.8 976.9L837.5 973.6L836.2 973.4L835.0 971.7L833.8 971.5L832.5 974.1L831.2 972.2L830.0 974.5L828.8 975.2L827.5 974.9L826.2 978.7L825.0 979.6L823.8 981.7L822.5 982.4L821.2 986.8L820.0 994.2L818.8 994.7L817.5 999.2L816.2 1004.2L815.0 1010.2L813.8 1015.9L812.5 1021.2L811.2 1022.7L810.0 1024.4L808.8 1026.3L807.5 1028.6L806.2 1027.0L805.0 1028.5L803.8 1026.4L802.5 1023.9L801.2 1021.5L800.0 1019.7L798.8 1012.6L797.5 1008.4L796.2 1003.8L795.0 998.3L793.8 992.3L792.5 984.8L791.2 981.7L790.0 977.8L788.8 975.5L787.5 975.8L786.2 973.2L785.0 972.2L783.8 970.5L782.5 971.4L781.2 971.5L780.0 970.9L778.8 971.8L777.5 973.2L776.2 972.9L775.0 973.7L773.8 977.2L772.5 976.1L771.2 976.8L770.0 980.4L768.8 980.7L767.5 985.8L766.2 983.2L765.0 984.8L763.8 986.3L762.5 988.6L761.2 990.7L760.0 992.3L758.8 995.1L757.5 997.7L756.2 1008.4L755.0 1004.1L753.8 1007.4L752.5 1007.2L751.2 1011.0L750.0 1014.4L748.8 1016.8L747.5 1020.8L746.2 1022.4L745.0 1026.9L743.8 1030.2L742.5 1034.8L741.2 1035.5L740.0 1039.5L738.8 1044.4L737.5 1045.6L736.2 1048.1L735.0 1053.3L733.8 1061.1L732.5 1058.2L731.2 1061.3L730.0 1068.0L728.8 1067.9L727.5 1068.7L726.2 1075.0L725.0 1080.7L723.8 1076.4L722.5 1080.4L721.2 1082.1L720.0 1079.6L718.8 1083.3L717.5 1081.8L716.2 1082.2L715.0 1083.3L713.8 1083.8L712.5 1086.1L711.2 1086.4L710.0 1088.4L708.8 1087.0L707.5 1092.3L706.2 1092.9L705.0 1090.3L703.8 1091.7L702.5 1092.6L701.2 1098.9L700.0 1093.0L698.8 1095.3L697.5 1094.9L696.2 1094.0L695.0 1095.0L693.8 1105.7L692.5 1099.0L691.2 1100.1L690.0 1101.9L688.8 1102.4L687.5 1099.5L686.2 1100.5L685.0 1106.9L683.8 1104.0L682.5 1109.0L681.2 1103.4L680.0 1106.7L678.8 1112.1L677.5 1110.9L676.2 1111.5L675.0 1106.7L673.8 1105.8L672.5 1112.6L671.2 1107.0L670.0 1108.5L668.8 1109.7L667.5 1109.1L666.2 1109.4L665.0 1114.6L663.8 1114.4L662.5 1114.2L661.2 1112.4L660.0 1109.0L658.8 1111.6L657.5 1106.4L656.2 1112.7L655.0 1106.9L653.8 1106.9L652.5 1102.7L651.2 1119.4L650.0 1104.3L648.8 1100.8L647.5 1099.9L646.2 1100.9L645.0 1104.7L643.8 1104.0L642.5 1096.9L641.2 1100.6L640.0 1100.7L638.8 1099.3L637.5 1089.2L636.2 1088.8L635.0 1088.5L633.8 1084.7L632.5 1081.5L631.2 1087.2L630.0 1086.9L628.8 1083.5L627.5 1081.9L626.2 1069.3L625.0 1074.6L623.8 1064.8L622.5 1062.6L621.2 1062.9L620.0 1060.8L618.8 1056.4L617.5 1056.8L616.2 1052.7L615.0 1046.6L613.8 1048.7L612.5 1043.1L611.2 1047.2L610.0 1045.2L608.8 1043.7L607.5 1037.1L606.2 1033.6L605.0 1040.6L603.8 1036.9L602.5 1031.3L601.2 1033.6L600.0 1030.8L598.8 1031.6L597.5 1025.5L596.2 1025.5L595.0 1023.0L593.8 1026.7L592.5 1022.5L591.2 1024.1L590.0 1019.9L588.8 1022.9L587.5 1018.5L586.2 1014.8L585.0 1015.0L583.8 1018.8L582.5 1014.2L581.2 1018.3L580.0 1015.4L578.8 1014.8L577.5 1018.6L576.2 1014.5L575.0 1017.1L573.8 1018.6L572.5 1020.0L571.2 1019.5L570.0 1018.9L568.8 1018.5L567.5 1021.2L566.2 1022.5L565.0 1021.8L563.8 1021.2L562.5 1021.9L561.2 1020.4L560.0 1021.2L558.8 1023.4L557.5 1022.2L556.2 1026.6L555.0 1025.5L553.8 1024.1L552.5 1027.6L551.2 1026.9L550.0 1026.3L548.8 1029.6L547.5 1026.5L546.2 1031.0L545.0 1029.8L543.8 1033.4L542.5 1029.8L541.2 1032.0L540.0 1032.1L538.8 1035.6L537.5 1033.2L536.2 1037.6L535.0 1037.1L533.8 1036.2L532.5 1037.1L531.2 1036.4L530.0 1038.0L528.8 1038.6L527.5 1044.9L526.2 1040.4L525.0 1043.7L523.8 1042.4L522.5 1042.5L521.2 1043.6L520.0 1045.5L518.8 1046.3L517.5 1045.6L516.2 1047.5L515.0 1050.2L513.8 1049.3L512.5 1049.2L511.2 1051.7L510.0 1048.0L508.8 1049.7L507.5 1049.9L506.2 1049.9L505.0 1054.6L503.8 1052.3L502.5 1053.1L501.2 1053.8L500.0 1057.0L498.8 1053.3L497.5 1055.3L496.2 1058.3L495.0 1053.9L493.8 1058.9L492.5 1057.0L491.2 1054.9L490.0 1057.5L488.8 1057.7L487.5 1061.4L486.2 1058.9L485.0 1058.2L483.8 1059.9L482.5 1057.8L481.2 1062.6L480.0 1063.1L478.8 1061.2L477.5 1062.8L476.2 1059.2L475.0 1064.0L473.8 1060.4L472.5 1065.1L471.2 1064.0L470.0 1061.0L468.8 1063.5L467.5 1066.9L466.2 1066.8L465.0 1067.4L463.8 1064.8L462.5 1065.0L461.2 1065.0L460.0 1065.5L458.8 1071.2L457.5 1066.9L456.2 1072.8L455.0 1070.5L453.8 1071.5L452.5 1071.9L451.2 1073.6L450.0 1073.3L448.8 1076.9L447.5 1077.6L446.2 1077.6L445.0 1076.2L443.8 1079.3L442.5 1079.4L441.2 1079.4L440.0 1078.1L438.8 1082.7L437.5 1081.9L436.2 1082.0L435.0 1080.9L433.8 1084.9L432.5 1083.0L431.2 1084.9L430.0 1083.4L428.8 1086.4L427.5 1090.7L426.2 1082.8L425.0 1085.0L423.8 1085.7L422.5 1084.7L421.2 1087.9L420.0 1086.0L418.8 1084.5L417.5 1086.7L416.2 1085.0L415.0 1087.6L413.8 1085.1L412.5 1086.4L411.2 1084.5L410.0 1085.7L408.8 1088.1L407.5 1085.8L406.2 1086.0L405.0 1085.4L403.8 1086.0L402.5 1086.0L401.2 1086.4L400.0 1088.2L398.8 1087.0L397.5 1089.6L396.2 1090.1L395.0 1089.3L393.8 1089.2L392.5 1090.0L391.2 1087.2L390.0 1088.7L388.8 1085.9L387.5 1087.2L386.2 1092.1L385.0 1087.3L383.8 1086.2L382.5 1087.9L381.2 1088.6L380.0 1099.0L378.8 1087.1L377.5 1089.2L376.2 1088.0L375.0 1086.4L373.8 1094.7L372.5 1087.9L371.2 1089.1L370.0 1088.8L368.8 1090.1L367.5 1090.6L366.2 1090.7L365.0 1087.8L363.8 1088.7L362.5 1087.8L361.2 1088.3L360.0 1089.1L358.8 1091.3L357.5 1093.3L356.2 1093.8L355.0 1093.0L353.8 1092.1L352.5 1091.8L351.2 1091.5L350.0 1091.0L348.8 1091.3L347.5 1092.0L346.2 1089.6L345.0 1093.7L343.8 1092.6L342.5 1090.2L341.2 1094.2L340.0 1093.0L338.8 1093.4L337.5 1093.6L336.2 1092.0L335.0 1096.2L333.8 1093.0L332.5 1095.6L331.2 1093.4L330.0 1092.6L328.8 1096.3L327.5 1093.1L326.2 1094.0L325.0 1095.2L323.8 1095.0L322.5 1096.5L321.2 1093.5L320.0 1093.0L318.8 1097.7L317.5 1093.3L316.2 1094.4L315.0 1094.5L313.8 1095.9L312.5 1095.5L311.2 1097.2L310.0 1096.8L308.8 1093.6L307.5 1098.1L306.2 1095.1L305.0 1095.6L303.8 1093.7L302.5 1094.0L301.2 1095.9L300.0 1094.2L298.8 1097.4L297.5 1096.5L296.2 1093.6L295.0 1094.4L293.8 1095.9L292.5 1094.1L291.2 1092.9L290.0 1093.4L288.8 1093.2L287.5 1095.6L286.2 1091.9L285.0 1093.6L283.8 1090.4L282.5 1093.3L281.2 1097.9L280.0 1100.7L278.8 1103.8L277.5 1104.7L276.2 1104.4L275.0 1107.3L273.8 1105.6L272.5 1106.9L271.2 1106.7L270.0 1105.2L268.8 1103.1L267.5 1105.4L266.2 1104.0L265.0 1105.2L263.8 1104.1L262.5 1103.3L261.2 1103.6L260.0 1101.4L258.8 1100.0L257.5 1099.0L256.2 1100.3L255.0 1097.6L253.8 1097.1L252.5 1095.6L251.2 1094.6L250.0 1097.7L248.8 1094.7L247.5 1095.2L246.2 1095.3L245.0 1096.9L243.8 1096.6L242.5 1103.3L241.2 1096.3L240.0 1096.7L238.8 1098.0L237.5 1096.3L236.2 1095.5L235.0 1097.9L233.8 1100.2L232.5 1103.2L231.2 1102.2L230.0 1105.9L228.8 1108.0L227.5 1106.3L226.2 1107.2L225.0 1106.6L223.8 1107.1L222.5 1108.5L221.2 1109.8L220.0 1107.8L218.8 1110.4L217.5 1109.6L216.2 1109.2L215.0 1110.0L213.8 1109.0L212.5 1108.0L211.2 1109.8L210.0 1107.7L208.8 1110.9L207.5 1107.8L206.2 1109.4L205.0 1106.8L203.8 1106.4L202.5 1108.3L201.2 1109.9L200.0 1107.1L198.8 1106.9L197.5 1104.1L196.2 1105.8L195.0 1104.5L193.8 1104.9L192.5 1103.2L191.2 1102.8L190.0 1104.4L188.8 1101.7L187.5 1102.1L186.2 1106.4L185.0 1099.6L183.8 1101.1L182.5 1098.8L181.2 1098.4L180.0 1097.4L178.8 1098.2L177.5 1096.5L176.2 1098.2L175.0 1097.8L173.8 1096.3L172.5 1099.2L171.2 1098.9L170.0 1097.6L168.8 1096.6L167.5 1097.0L166.2 1096.4L165.0 1096.8L163.8 1097.0L162.5 1096.7L161.2 1097.5L160.0 1099.5L158.8 1098.5L157.5 1097.9L156.2 1097.1L155.0 1099.6Z"/>
<path stroke-width="6.2" stroke-linecap="butt" d="M155.0 1093.0L156.2 1092.8L157.5 1092.6L158.8 1092.4L160.0 1092.3L161.2 1092.2L162.5 1092.1L163.8 1092.0L165.0 1091.9L166.2 1091.9L167.5 1091.8L168.8 1091.8L170.0 1091.8L171.2 1091.8L172.5 1091.8L173.8 1091.8L175.0 1091.8L176.2 1091.8L177.5 1092.0L178.8 1092.3L180.0 1092.7L181.2 1093.1L182.5 1093.7L183.8 1094.2L185.0 1094.8L186.2 1095.4L187.5 1096.0L188.8 1096.6L190.0 1097.1L191.2 1097.6L192.5 1098.0L193.8 1098.4L195.0 1098.8L196.2 1099.2L197.5 1099.6L198.8 1100.0L200.0 1100.4L201.2 1100.9L202.5 1101.2L203.8 1101.6L205.0 1101.9L206.2 1102.2L207.5 1102.5L208.8 1102.7L210.0 1102.9L211.2 1103.0L212.5 1103.0L213.8 1103.0L215.0 1103.0L216.2 1102.9L217.5 1102.9L218.8 1102.8L220.0 1102.7L221.2 1102.6L222.5 1102.4L223.8 1102.3L225.0 1102.1L226.2 1101.9L227.5 1101.8L228.8 1101.1L230.0 1099.8L231.2 1097.9L232.5 1095.9L233.8 1093.9L235.0 1092.2L236.2 1091.0L237.5 1090.5L238.8 1090.5L240.0 1090.5L241.2 1090.5L242.5 1090.5L243.8 1090.5L245.0 1090.5L246.2 1090.5L247.5 1090.5L248.8 1090.5L250.0 1090.5L251.2 1090.5L252.5 1090.5L253.8 1090.8L255.0 1091.6L256.2 1092.7L257.5 1094.1L258.8 1095.4L260.0 1096.6L261.2 1097.5L262.5 1098.0L263.8 1098.2L265.0 1098.4L266.2 1098.5L267.5 1098.7L268.8 1098.8L270.0 1098.9L271.2 1099.0L272.5 1099.1L273.8 1099.2L275.0 1099.2L276.2 1099.2L277.5 1099.2L278.8 1097.8L280.0 1094.4L281.2 1090.3L282.5 1086.9L283.8 1085.5L285.0 1085.5L286.2 1085.7L287.5 1085.8L288.8 1086.1L290.0 1086.3L291.2 1086.6L292.5 1086.9L293.8 1087.2L295.0 1087.4L296.2 1087.7L297.5 1087.8L298.8 1088.0L300.0 1088.0L301.2 1088.0L302.5 1088.0L303.8 1088.0L305.0 1087.9L306.2 1087.9L307.5 1087.8L308.8 1087.8L310.0 1087.7L311.2 1087.7L312.5 1087.6L313.8 1087.5L315.0 1087.5L316.2 1087.4L317.5 1087.3L318.8 1087.2L320.0 1087.1L321.2 1087.0L322.5 1086.9L323.8 1086.8L325.0 1086.8L326.2 1086.6L327.5 1086.5L328.8 1086.4L330.0 1086.2L331.2 1086.0L332.5 1085.9L333.8 1085.7L335.0 1085.4L336.2 1085.2L337.5 1085.0L338.8 1084.8L340.0 1084.6L341.2 1084.4L342.5 1084.1L343.8 1083.9L345.0 1083.7L346.2 1083.5L347.5 1083.3L348.8 1083.2L350.0 1083.0L351.2 1082.9L352.5 1082.7L353.8 1082.6L355.0 1082.4L356.2 1082.3L357.5 1082.1L358.8 1082.0L360.0 1081.8L361.2 1081.7L362.5 1081.6L363.8 1081.5L365.0 1081.3L366.2 1081.2L367.5 1081.1L368.8 1081.0L370.0 1080.9L371.2 1080.8L372.5 1080.7L373.8 1080.6L375.0 1080.5L376.2 1080.4L377.5 1080.3L378.8 1080.3L380.0 1080.2L381.2 1080.1L382.5 1080.1L383.8 1080.0L385.0 1080.0L386.2 1079.9L387.5 1079.9L388.8 1079.8L390.0 1079.8L391.2 1079.7L392.5 1079.7L393.8 1079.6L395.0 1079.5L396.2 1079.5L397.5 1079.4L398.8 1079.3L400.0 1079.2L401.2 1079.2L402.5 1079.1L403.8 1079.0L405.0 1078.9L406.2 1078.8L407.5 1078.7L408.8 1078.6L410.0 1078.5L411.2 1078.4L412.5 1078.3L413.8 1078.2L415.0 1078.0L416.2 1077.9L417.5 1077.8L418.8 1077.6L420.0 1077.5L421.2 1077.3L422.5 1077.1L423.8 1076.9L425.0 1076.8L426.2 1076.5L427.5 1076.3L428.8 1076.0L430.0 1075.6L431.2 1075.2L432.5 1074.8L433.8 1074.4L435.0 1074.0L436.2 1073.5L437.5 1073.0L438.8 1072.5L440.0 1072.0L441.2 1071.5L442.5 1070.8L443.8 1070.2L445.0 1069.4L446.2 1068.7L447.5 1067.8L448.8 1067.0L450.0 1066.1L451.2 1065.3L452.5 1064.4L453.8 1063.5L455.0 1062.6L456.2 1061.7L457.5 1060.9L458.8 1060.1L460.0 1059.3L461.2 1058.6L462.5 1057.9L463.8 1057.3L465.0 1056.8L466.2 1056.3L467.5 1055.8L468.8 1055.4L470.0 1055.0L471.2 1054.6L472.5 1054.2L473.8 1053.8L475.0 1053.5L476.2 1053.1L477.5 1052.8L478.8 1052.5L480.0 1052.2L481.2 1051.8L482.5 1051.5L483.8 1051.2L485.0 1050.8L486.2 1050.4L487.5 1050.1L488.8 1049.7L490.0 1049.2L491.2 1048.8L492.5 1048.4L493.8 1047.9L495.0 1047.5L496.2 1047.0L497.5 1046.6L498.8 1046.1L500.0 1045.6L501.2 1045.2L502.5 1044.7L503.8 1044.2L505.0 1043.7L506.2 1043.2L507.5 1042.6L508.8 1042.1L510.0 1041.6L511.2 1041.0L512.5 1040.4L513.8 1039.8L515.0 1039.2L516.2 1038.6L517.5 1038.0L518.8 1037.3L520.0 1036.6L521.2 1035.9L522.5 1035.1L523.8 1034.3L525.0 1033.6L526.2 1032.8L527.5 1032.0L528.8 1031.1L530.0 1030.3L531.2 1029.5L532.5 1028.7L533.8 1027.9L535.0 1027.2L536.2 1026.4L537.5 1025.7L538.8 1024.9L540.0 1024.2L541.2 1023.6L542.5 1022.9L543.8 1022.2L545.0 1021.5L546.2 1020.8L547.5 1020.2L548.8 1019.5L550.0 1018.8L551.2 1018.2L552.5 1017.5L553.8 1016.9L555.0 1016.3L556.2 1015.6L557.5 1015.0L558.8 1014.4L560.0 1013.9L561.2 1013.3L562.5 1012.8L563.8 1012.3L565.0 1011.8L566.2 1011.2L567.5 1010.7L568.8 1010.2L570.0 1009.6L571.2 1009.1L572.5 1008.5L573.8 1008.0L575.0 1007.5L576.2 1007.1L577.5 1006.7L578.8 1006.4L580.0 1006.2L581.2 1006.1L582.5 1006.0L583.8 1006.1L585.0 1006.6L586.2 1007.2L587.5 1008.0L588.8 1009.0L590.0 1010.0L591.2 1011.1L592.5 1012.2L593.8 1013.3L595.0 1014.2L596.2 1015.2L597.5 1016.0L598.8 1016.9L600.0 1017.8L601.2 1018.7L602.5 1019.7L603.8 1020.7L605.0 1021.7L606.2 1022.8L607.5 1024.0L608.8 1025.3L610.0 1026.8L611.2 1028.4L612.5 1030.3L613.8 1032.5L615.0 1034.9L616.2 1037.5L617.5 1040.1L618.8 1042.8L620.0 1045.5L621.2 1048.0L622.5 1050.5L623.8 1052.9L625.0 1055.5L626.2 1058.0L627.5 1060.6L628.8 1063.2L630.0 1065.7L631.2 1068.1L632.5 1070.3L633.8 1072.4L635.0 1074.2L636.2 1076.0L637.5 1077.6L638.8 1079.2L640.0 1080.8L641.2 1082.2L642.5 1083.6L643.8 1084.8L645.0 1086.0L646.2 1087.1L647.5 1088.0L648.8 1088.9L650.0 1089.8L651.2 1090.7L652.5 1091.5L653.8 1092.4L655.0 1093.2L656.2 1093.9L657.5 1094.6L658.8 1095.2L660.0 1095.7L661.2 1096.2L662.5 1096.5L663.8 1096.7L665.0 1096.8L666.2 1096.7L667.5 1096.6L668.8 1096.5L670.0 1096.4L671.2 1096.2L672.5 1095.9L673.8 1095.7L675.0 1095.4L676.2 1095.1L677.5 1094.8L678.8 1094.5L680.0 1094.2L681.2 1093.9L682.5 1093.5L683.8 1093.1L685.0 1092.6L686.2 1092.1L687.5 1091.5L688.8 1091.0L690.0 1090.4L691.2 1089.8L692.5 1089.2L693.8 1088.6L695.0 1088.0L696.2 1087.4L697.5 1086.9L698.8 1086.3L700.0 1085.7L701.2 1085.1L702.5 1084.5L703.8 1083.9L705.0 1083.2L706.2 1082.6L707.5 1081.9L708.8 1081.2L710.0 1080.5L711.2 1079.8L712.5 1079.1L713.8 1078.4L715.0 1077.6L716.2 1076.9L717.5 1076.0L718.8 1075.1L720.0 1074.1L721.2 1073.0L722.5 1071.8L723.8 1070.2L725.0 1068.2L726.2 1065.9L727.5 1063.3L728.8 1060.7L730.0 1058.0L731.2 1055.3L732.5 1052.3L733.8 1049.2L735.0 1045.9L736.2 1042.7L737.5 1039.4L738.8 1036.1L740.0 1033.0L741.2 1029.9L742.5 1026.8L743.8 1023.6L745.0 1020.5L746.2 1017.4L747.5 1014.3L748.8 1011.3L750.0 1008.4L751.2 1005.6L752.5 1003.0L753.8 1000.4L755.0 997.9L756.2 995.4L757.5 992.9L758.8 990.5L760.0 988.2L761.2 986.1L762.5 984.1L763.8 982.2L765.0 980.5L766.2 978.9L767.5 977.5L768.8 976.0L770.0 974.7L771.2 973.5L772.5 972.4L773.8 971.4L775.0 970.5L776.2 969.7L777.5 968.8L778.8 968.0L780.0 967.4L781.2 966.9L782.5 966.8L783.8 967.0L785.0 967.8L786.2 969.0L787.5 970.5L788.8 972.3L790.0 974.2L791.2 977.2L792.5 981.7L793.8 987.1L795.0 992.7L796.2 998.0L797.5 1003.3L798.8 1009.0L800.0 1014.2L801.2 1018.0L802.5 1020.9L803.8 1023.3L805.0 1024.2L806.2 1023.9L807.5 1023.0L808.8 1021.6L810.0 1019.9L811.2 1018.0L812.5 1015.0L813.8 1010.6L815.0 1005.3L816.2 1000.1L817.5 995.5L818.8 991.3L820.0 987.0L821.2 982.9L822.5 979.2L823.8 976.2L825.0 974.2L826.2 973.0L827.5 971.8L828.8 970.7L830.0 969.8L831.2 969.0L832.5 968.5L833.8 968.1L835.0 968.0L836.2 968.4L837.5 969.6L838.8 971.4L840.0 973.5L841.2 975.8L842.5 978.0L843.8 980.4L845.0 983.2L846.2 986.3L847.5 989.5L848.8 992.6L850.0 995.5L851.2 998.2L852.5 1001.0L853.8 1003.8L855.0 1006.5L856.2 1009.1L857.5 1011.5L858.8 1013.7L860.0 1015.5L861.2 1017.1L862.5 1018.7L863.8 1020.2L865.0 1021.5L866.2 1022.8L867.5 1023.8L868.8 1024.8L870.0 1025.5L871.2 1026.1L872.5 1026.8L873.8 1027.4L875.0 1027.9L876.2 1028.5L877.5 1029.0L878.8 1029.4L880.0 1029.8L881.2 1030.1L882.5 1030.3L883.8 1030.5L885.0 1030.5L886.2 1030.5L887.5 1030.4L888.8 1030.2L890.0 1030.0L891.2 1029.8L892.5 1029.6L893.8 1029.3L895.0 1029.0L896.2 1028.7L897.5 1028.5L898.8 1028.2L900.0 1028.0L901.2 1027.8L902.5 1027.6L903.8 1027.5L905.0 1027.3L906.2 1027.2L907.5 1027.0L908.8 1026.8L910.0 1026.6L911.2 1026.4L912.5 1026.1L913.8 1025.8L915.0 1025.5L916.2 1024.9L917.5 1024.0L918.8 1022.9L920.0 1021.5L921.2 1020.0L922.5 1018.5L923.8 1016.9L925.0 1015.5L926.2 1014.1L927.5 1012.7L928.8 1011.3L930.0 1009.9L931.2 1008.4L932.5 1006.9L933.8 1005.3L935.0 1003.8L936.2 1002.2L937.5 1000.5L938.8 998.8L940.0 997.2L941.2 995.4L942.5 993.7L943.8 991.8L945.0 989.9L946.2 987.8L947.5 985.5L948.8 983.0L950.0 980.1L951.2 977.0L952.5 973.7L953.8 970.2L955.0 966.7L956.2 963.1L957.5 959.6L958.8 956.2L960.0 953.0L961.2 949.9L962.5 946.7L963.8 943.5L965.0 940.4L966.2 937.2L967.5 934.2L968.8 931.2L970.0 928.3L971.2 925.6L972.5 923.0L973.8 920.5L975.0 918.0L976.2 915.5L977.5 913.1L978.8 910.9L980.0 908.8L981.2 907.0L982.5 905.5L983.8 904.1L985.0 902.7L986.2 901.4L987.5 900.1L988.8 899.1L990.0 898.2L991.2 897.7L992.5 897.5L993.8 897.8L995.0 898.7L996.2 900.1L997.5 901.7L998.8 903.6L1000.0 905.5L1001.2 907.7L1002.5 910.4L1003.8 913.6L1005.0 917.2L1006.2 921.2L1007.5 925.5L1008.8 930.5L1010.0 936.5L1011.2 943.3L1012.5 950.5L1013.8 958.0L1015.0 966.5L1016.2 976.3L1017.5 986.4L1018.8 995.6L1020.0 1003.0L1021.2 1008.7L1022.5 1013.7L1023.8 1018.2L1025.0 1022.3L1026.2 1026.3L1027.5 1030.3L1028.8 1034.2L1030.0 1038.0L1031.2 1041.6L1032.5 1045.0L1033.8 1048.1L1035.0 1051.0L1036.2 1053.5L1037.5 1055.8L1038.8 1058.1L1040.0 1060.3L1041.2 1062.4L1042.5 1064.4L1043.8 1066.3L1045.0 1068.0L1046.2 1069.5L1047.5 1070.9L1048.8 1072.1L1050.0 1073.0"/>
</g>
<g stroke="#000" stroke-width="3.4" fill="none" stroke-linecap="butt">
<path stroke-width="3.6" d="M155.0 19.1V365.3"/>
<path stroke-width="3.6" d="M1050.0 19.1V349.6"/>
<path stroke-width="3.6" d="M137.5 347.8H1051.8"/>
<path stroke-width="3.3" d="M137.5 20.8H155.0M145.5 49.4H155.0M145.5 42.2H155.0M145.5 37.1H155.0M145.5 33.1H155.0M145.5 29.9H155.0M145.5 27.1H155.0M145.5 24.8H155.0M145.5 22.7H155.0M137.5 61.7H155.0M145.5 90.2H155.0M145.5 83.0H155.0M145.5 77.9H155.0M145.5 74.0H155.0M145.5 70.7H155.0M145.5 68.0H155.0M145.5 65.6H155.0M145.5 63.5H155.0M137.5 102.5H155.0M145.5 131.1H155.0M145.5 123.9H155.0M145.5 118.8H155.0M145.5 114.9H155.0M145.5 111.6H155.0M145.5 108.9H155.0M145.5 106.5H155.0M145.5 104.4H155.0M137.5 143.4H155.0M145.5 172.0H155.0M145.5 164.8H155.0M145.5 159.7H155.0M145.5 155.7H155.0M145.5 152.5H155.0M145.5 149.8H155.0M145.5 147.4H155.0M145.5 145.3H155.0M137.5 184.3H155.0M145.5 212.9H155.0M145.5 205.7H155.0M145.5 200.6H155.0M145.5 196.6H155.0M145.5 193.4H155.0M145.5 190.6H155.0M145.5 188.3H155.0M145.5 186.2H155.0M137.5 225.2H155.0M145.5 253.7H155.0M145.5 246.5H155.0M145.5 241.4H155.0M145.5 237.5H155.0M145.5 234.2H155.0M145.5 231.5H155.0M145.5 229.1H155.0M145.5 227.0H155.0M137.5 266.1H155.0M145.5 294.6H155.0M145.5 287.4H155.0M145.5 282.3H155.0M145.5 278.4H155.0M145.5 275.1H155.0M145.5 272.4H155.0M145.5 270.0H155.0M145.5 267.9H155.0M137.5 306.9H155.0M145.5 335.5H155.0M145.5 328.3H155.0M145.5 323.2H155.0M145.5 319.2H155.0M145.5 316.0H155.0M145.5 313.3H155.0M145.5 310.9H155.0M145.5 308.8H155.0"/>
<path d="M1040.5 311.5H1050.0M1032.5 275.1H1050.0M1040.5 238.8H1050.0M1032.5 202.5H1050.0M1040.5 166.1H1050.0M1032.5 129.8H1050.0M1040.5 93.5H1050.0M1032.5 57.1H1050.0M1040.5 20.8H1050.0"/>
<path d="M260.9 347.8v9.5M366.8 347.8v17.5M472.6 347.8v9.5M578.5 347.8v17.5M684.4 347.8v9.5M790.2 347.8v17.5M896.1 347.8v9.5M1002.0 347.8v17.5"/>
<path stroke-width="3.6" d="M155.0 424.5V770.6"/>
<path stroke-width="3.6" d="M1050.0 424.5V770.6"/>
<path stroke-width="3.6" d="M137.5 753.1H1051.8"/>
<path stroke-width="3.3" d="M137.5 426.2H155.0M145.5 449.0H155.0M145.5 443.3H155.0M145.5 439.2H155.0M145.5 436.0H155.0M145.5 433.5H155.0M145.5 431.3H155.0M145.5 429.4H155.0M145.5 427.7H155.0M137.5 458.9H155.0M145.5 481.7H155.0M145.5 476.0H155.0M145.5 471.9H155.0M145.5 468.7H155.0M145.5 466.1H155.0M145.5 464.0H155.0M145.5 462.1H155.0M145.5 460.4H155.0M137.5 491.6H155.0M145.5 514.4H155.0M145.5 508.7H155.0M145.5 504.6H155.0M145.5 501.4H155.0M145.5 498.8H155.0M145.5 496.6H155.0M145.5 494.7H155.0M145.5 493.1H155.0M137.5 524.3H155.0M145.5 547.1H155.0M145.5 541.4H155.0M145.5 537.3H155.0M145.5 534.1H155.0M145.5 531.5H155.0M145.5 529.3H155.0M145.5 527.4H155.0M145.5 525.8H155.0M137.5 557.0H155.0M145.5 579.8H155.0M145.5 574.1H155.0M145.5 570.0H155.0M145.5 566.8H155.0M145.5 564.2H155.0M145.5 562.0H155.0M145.5 560.1H155.0M145.5 558.5H155.0M137.5 589.6H155.0M145.5 612.5H155.0M145.5 606.7H155.0M145.5 602.7H155.0M145.5 599.5H155.0M145.5 596.9H155.0M145.5 594.7H155.0M145.5 592.8H155.0M145.5 591.1H155.0M137.5 622.3H155.0M145.5 645.2H155.0M145.5 639.4H155.0M145.5 635.3H155.0M145.5 632.2H155.0M145.5 629.6H155.0M145.5 627.4H155.0M145.5 625.5H155.0M145.5 623.8H155.0M137.5 655.0H155.0M145.5 677.9H155.0M145.5 672.1H155.0M145.5 668.0H155.0M145.5 664.9H155.0M145.5 662.3H155.0M145.5 660.1H155.0M145.5 658.2H155.0M145.5 656.5H155.0M137.5 687.7H155.0M145.5 710.6H155.0M145.5 704.8H155.0M145.5 700.7H155.0M145.5 697.6H155.0M145.5 695.0H155.0M145.5 692.8H155.0M145.5 690.9H155.0M145.5 689.2H155.0M137.5 720.4H155.0M145.5 743.3H155.0M145.5 737.5H155.0M145.5 733.4H155.0M145.5 730.3H155.0M145.5 727.7H155.0M145.5 725.5H155.0M145.5 723.6H155.0M145.5 721.9H155.0"/>
<path d="M1040.5 716.8H1050.0M1032.5 680.5H1050.0M1040.5 644.1H1050.0M1032.5 607.8H1050.0M1040.5 571.5H1050.0M1032.5 535.2H1050.0M1040.5 498.8H1050.0M1032.5 462.5H1050.0M1040.5 426.2H1050.0"/>
<path d="M244.5 753.1v9.5M334.0 753.1v17.5M423.5 753.1v9.5M513.0 753.1v17.5M602.5 753.1v9.5M692.0 753.1v17.5M781.5 753.1v9.5M871.0 753.1v17.5M960.5 753.1v9.5"/>
<path stroke-width="3.6" d="M155.0 829.2V1175.4"/>
<path stroke-width="3.6" d="M1050.0 829.2V1175.4"/>
<path stroke-width="3.6" d="M137.5 1157.9H1051.8"/>
<path stroke-width="3.3" d="M137.5 830.9H155.0M145.5 863.6H155.0M145.5 855.3H155.0M145.5 849.5H155.0M145.5 845.0H155.0M145.5 841.3H155.0M145.5 838.1H155.0M145.5 835.4H155.0M145.5 833.0H155.0M137.5 877.6H155.0M145.5 910.3H155.0M145.5 902.0H155.0M145.5 896.2H155.0M145.5 891.7H155.0M145.5 888.0H155.0M145.5 884.9H155.0M145.5 882.1H155.0M145.5 879.8H155.0M137.5 924.3H155.0M145.5 957.0H155.0M145.5 948.8H155.0M145.5 942.9H155.0M145.5 938.4H155.0M145.5 934.7H155.0M145.5 931.6H155.0M145.5 928.9H155.0M145.5 926.5H155.0M137.5 971.0H155.0M145.5 1003.7H155.0M145.5 995.5H155.0M145.5 989.6H155.0M145.5 985.1H155.0M145.5 981.4H155.0M145.5 978.3H155.0M145.5 975.6H155.0M145.5 973.2H155.0M137.5 1017.8H155.0M145.5 1050.4H155.0M145.5 1042.2H155.0M145.5 1036.3H155.0M145.5 1031.8H155.0M145.5 1028.1H155.0M145.5 1025.0H155.0M145.5 1022.3H155.0M145.5 1019.9H155.0M137.5 1064.5H155.0M145.5 1097.1H155.0M145.5 1088.9H155.0M145.5 1083.1H155.0M145.5 1078.5H155.0M145.5 1074.8H155.0M145.5 1071.7H155.0M145.5 1069.0H155.0M145.5 1066.6H155.0M137.5 1111.2H155.0M145.5 1143.8H155.0M145.5 1135.6H155.0M145.5 1129.8H155.0M145.5 1125.2H155.0M145.5 1121.5H155.0M145.5 1118.4H155.0M145.5 1115.7H155.0M145.5 1113.3H155.0"/>
<path d="M1040.5 1130.7H1050.0M1032.5 1103.4H1050.0M1040.5 1076.2H1050.0M1032.5 1048.9H1050.0M1040.5 1021.7H1050.0M1032.5 994.4H1050.0M1040.5 967.1H1050.0M1032.5 939.9H1050.0M1040.5 912.6H1050.0M1032.5 885.4H1050.0M1040.5 858.1H1050.0M1032.5 830.9H1050.0"/>
<path d="M218.9 1157.9v9.5M282.9 1157.9v17.5M346.8 1157.9v9.5M410.7 1157.9v17.5M474.6 1157.9v9.5M538.6 1157.9v17.5M602.5 1157.9v9.5M666.4 1157.9v17.5M730.4 1157.9v9.5M794.3 1157.9v17.5M858.2 1157.9v9.5M922.1 1157.9v17.5M986.1 1157.9v9.5"/>
</g>
<g font-family="'Liberation Sans',Arial,sans-serif" fill="#222">
<text transform="translate(106.9 32.1) scale(1.02 1)" text-anchor="end" font-size="30.5">10</text>
<text transform="translate(126 13.5) scale(1.13 1)" text-anchor="end" font-size="19.5" fill="#555">-9</text>
<text transform="translate(94.7 113.8) scale(1.02 1)" text-anchor="end" font-size="30.5">10</text>
<text transform="translate(126 95.2) scale(1.13 1)" text-anchor="end" font-size="19.5" fill="#555">-11</text>
<text transform="translate(94.7 195.6) scale(1.02 1)" text-anchor="end" font-size="30.5">10</text>
<text transform="translate(126 177.0) scale(1.13 1)" text-anchor="end" font-size="19.5" fill="#555">-13</text>
<text transform="translate(94.7 277.4) scale(1.02 1)" text-anchor="end" font-size="30.5">10</text>
<text transform="translate(126 258.8) scale(1.13 1)" text-anchor="end" font-size="19.5" fill="#555">-15</text>
<text transform="translate(94.7 359.1) scale(1.02 1)" text-anchor="end" font-size="30.5">10</text>
<text transform="translate(126 340.5) scale(1.13 1)" text-anchor="end" font-size="19.5" fill="#555">-17</text>
<text transform="translate(1068 356.5) scale(1.05 1)" font-size="30.5">0</text>
<text transform="translate(1068 283.8) scale(1.05 1)" font-size="30.5">10</text>
<text transform="translate(1068 211.2) scale(1.05 1)" font-size="30.5">20</text>
<text transform="translate(1068 138.5) scale(1.05 1)" font-size="30.5">30</text>
<text transform="translate(1068 65.8) scale(1.05 1)" font-size="30.5">40</text>
<text transform="translate(155.0 401.6) scale(1.05 1)" text-anchor="middle" font-size="30.5">0</text>
<text transform="translate(366.8 401.6) scale(1.05 1)" text-anchor="middle" font-size="30.5">1</text>
<text transform="translate(578.5 401.6) scale(1.05 1)" text-anchor="middle" font-size="30.5">2</text>
<text transform="translate(790.2 401.6) scale(1.05 1)" text-anchor="middle" font-size="30.5">3</text>
<text transform="translate(1002.0 401.6) scale(1.05 1)" text-anchor="middle" font-size="30.5">4</text>
<text transform="translate(106.9 437.5) scale(1.02 1)" text-anchor="end" font-size="30.5">10</text>
<text transform="translate(126 418.9) scale(1.13 1)" text-anchor="end" font-size="19.5" fill="#555">-9</text>
<text transform="translate(94.7 502.9) scale(1.02 1)" text-anchor="end" font-size="30.5">10</text>
<text transform="translate(126 484.3) scale(1.13 1)" text-anchor="end" font-size="19.5" fill="#555">-11</text>
<text transform="translate(94.7 568.3) scale(1.02 1)" text-anchor="end" font-size="30.5">10</text>
<text transform="translate(126 549.7) scale(1.13 1)" text-anchor="end" font-size="19.5" fill="#555">-13</text>
<text transform="translate(94.7 633.6) scale(1.02 1)" text-anchor="end" font-size="30.5">10</text>
<text transform="translate(126 615.0) scale(1.13 1)" text-anchor="end" font-size="19.5" fill="#555">-15</text>
<text transform="translate(94.7 699.0) scale(1.02 1)" text-anchor="end" font-size="30.5">10</text>
<text transform="translate(126 680.4) scale(1.13 1)" text-anchor="end" font-size="19.5" fill="#555">-17</text>
<text transform="translate(94.7 764.4) scale(1.02 1)" text-anchor="end" font-size="30.5">10</text>
<text transform="translate(126 745.8) scale(1.13 1)" text-anchor="end" font-size="19.5" fill="#555">-19</text>
<text transform="translate(1068 761.8) scale(1.05 1)" font-size="30.5">0</text>
<text transform="translate(1068 689.2) scale(1.05 1)" font-size="30.5">10</text>
<text transform="translate(1068 616.5) scale(1.05 1)" font-size="30.5">20</text>
<text transform="translate(1068 543.9) scale(1.05 1)" font-size="30.5">30</text>
<text transform="translate(1068 471.2) scale(1.05 1)" font-size="30.5">40</text>
<text transform="translate(155.0 806.9) scale(1.05 1)" text-anchor="middle" font-size="30.5">0</text>
<text transform="translate(334.0 806.9) scale(1.05 1)" text-anchor="middle" font-size="30.5">2</text>
<text transform="translate(513.0 806.9) scale(1.05 1)" text-anchor="middle" font-size="30.5">4</text>
<text transform="translate(692.0 806.9) scale(1.05 1)" text-anchor="middle" font-size="30.5">6</text>
<text transform="translate(871.0 806.9) scale(1.05 1)" text-anchor="middle" font-size="30.5">8</text>
<text transform="translate(1050.0 806.9) scale(1.05 1)" text-anchor="middle" font-size="30.5">10</text>
<text transform="translate(94.7 888.9) scale(1.02 1)" text-anchor="end" font-size="30.5">10</text>
<text transform="translate(126 870.3) scale(1.13 1)" text-anchor="end" font-size="19.5" fill="#555">-10</text>
<text transform="translate(94.7 982.3) scale(1.02 1)" text-anchor="end" font-size="30.5">10</text>
<text transform="translate(126 963.7) scale(1.13 1)" text-anchor="end" font-size="19.5" fill="#555">-12</text>
<text transform="translate(94.7 1075.8) scale(1.02 1)" text-anchor="end" font-size="30.5">10</text>
<text transform="translate(126 1057.2) scale(1.13 1)" text-anchor="end" font-size="19.5" fill="#555">-14</text>
<text transform="translate(94.7 1169.2) scale(1.02 1)" text-anchor="end" font-size="30.5">10</text>
<text transform="translate(126 1150.6) scale(1.13 1)" text-anchor="end" font-size="19.5" fill="#555">-16</text>
<text transform="translate(1068 1166.6) scale(1.05 1)" font-size="30.5">0</text>
<text transform="translate(1068 1112.1) scale(1.05 1)" font-size="30.5">1</text>
<text transform="translate(1068 1057.6) scale(1.05 1)" font-size="30.5">2</text>
<text transform="translate(1068 1003.1) scale(1.05 1)" font-size="30.5">3</text>
<text transform="translate(1068 948.6) scale(1.05 1)" font-size="30.5">4</text>
<text transform="translate(1068 894.1) scale(1.05 1)" font-size="30.5">5</text>
<text transform="translate(1068 839.6) scale(1.05 1)" font-size="30.5">6</text>
<text transform="translate(155.0 1211.7) scale(1.05 1)" text-anchor="middle" font-size="30.5">0</text>
<text transform="translate(282.9 1211.7) scale(1.05 1)" text-anchor="middle" font-size="30.5">10</text>
<text transform="translate(410.7 1211.7) scale(1.05 1)" text-anchor="middle" font-size="30.5">20</text>
<text transform="translate(538.6 1211.7) scale(1.05 1)" text-anchor="middle" font-size="30.5">30</text>
<text transform="translate(666.4 1211.7) scale(1.05 1)" text-anchor="middle" font-size="30.5">40</text>
<text transform="translate(794.3 1211.7) scale(1.05 1)" text-anchor="middle" font-size="30.5">50</text>
<text transform="translate(922.1 1211.7) scale(1.05 1)" text-anchor="middle" font-size="30.5">60</text>
<text transform="translate(1050.0 1211.7) scale(1.05 1)" text-anchor="middle" font-size="30.5">70</text>
</g>
<g font-family="'Liberation Sans',Arial,sans-serif" fill="#000" font-weight="bold" font-size="44">
<text x="395" y="1279.5" textLength="414" lengthAdjust="spacingAndGlyphs">measurement time / h</text>
<text transform="translate(30.6 675) rotate(-90)" textLength="175.5" lengthAdjust="spacingAndGlyphs"><tspan font-style="italic">p</tspan>O<tspan font-size="28" dy="14">2</tspan><tspan dy="-14"> / bar</tspan></text>
<text transform="translate(1153.5 762.4) rotate(-90)" textLength="366.4" lengthAdjust="spacingAndGlyphs">pump current / mA</text>
</g>
</g>
</svg>
</body></html>
